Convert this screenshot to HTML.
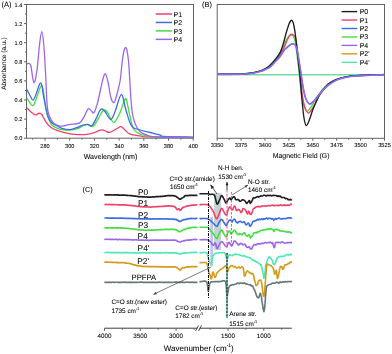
<!DOCTYPE html>
<html><head><meta charset="utf-8"><style>
html,body{margin:0;padding:0;background:#fff;overflow:hidden;}
svg{display:block;font-family:"Liberation Sans", sans-serif;will-change:transform;}
text{text-rendering:geometricPrecision;stroke:#000;stroke-width:0.06px;}
</style></head><body>
<svg width="392" height="354" viewBox="0 0 392 354">
<rect width="392" height="354" fill="#fff"/>
<text x="1.6" y="7.0" font-size="7.5" text-anchor="start" fill="#000" >(A)</text>
<rect x="26.5" y="4.5" width="167.0" height="133.7" fill="none" stroke="#606464" stroke-width="1"/>
<line x1="24.0" y1="138.2" x2="26.5" y2="138.2" stroke="#606464" stroke-width="1" />
<text x="22.3" y="140.2" font-size="5.6" text-anchor="end" fill="#000" >0.0</text>
<line x1="25.0" y1="128.64999999999998" x2="26.5" y2="128.64999999999998" stroke="#606464" stroke-width="1" />
<line x1="24.0" y1="119.1" x2="26.5" y2="119.1" stroke="#606464" stroke-width="1" />
<text x="22.3" y="121.1" font-size="5.6" text-anchor="end" fill="#000" >0.2</text>
<line x1="25.0" y1="109.55" x2="26.5" y2="109.55" stroke="#606464" stroke-width="1" />
<line x1="24.0" y1="99.99999999999999" x2="26.5" y2="99.99999999999999" stroke="#606464" stroke-width="1" />
<text x="22.3" y="101.99999999999999" font-size="5.6" text-anchor="end" fill="#000" >0.4</text>
<line x1="25.0" y1="90.44999999999999" x2="26.5" y2="90.44999999999999" stroke="#606464" stroke-width="1" />
<line x1="24.0" y1="80.89999999999998" x2="26.5" y2="80.89999999999998" stroke="#606464" stroke-width="1" />
<text x="22.3" y="82.89999999999998" font-size="5.6" text-anchor="end" fill="#000" >0.6</text>
<line x1="25.0" y1="71.34999999999998" x2="26.5" y2="71.34999999999998" stroke="#606464" stroke-width="1" />
<line x1="24.0" y1="61.79999999999998" x2="26.5" y2="61.79999999999998" stroke="#606464" stroke-width="1" />
<text x="22.3" y="63.79999999999998" font-size="5.6" text-anchor="end" fill="#000" >0.8</text>
<line x1="25.0" y1="52.249999999999986" x2="26.5" y2="52.249999999999986" stroke="#606464" stroke-width="1" />
<line x1="24.0" y1="42.69999999999999" x2="26.5" y2="42.69999999999999" stroke="#606464" stroke-width="1" />
<text x="22.3" y="44.69999999999999" font-size="5.6" text-anchor="end" fill="#000" >1.0</text>
<line x1="25.0" y1="33.14999999999999" x2="26.5" y2="33.14999999999999" stroke="#606464" stroke-width="1" />
<line x1="24.0" y1="23.599999999999966" x2="26.5" y2="23.599999999999966" stroke="#606464" stroke-width="1" />
<text x="22.3" y="25.599999999999966" font-size="5.6" text-anchor="end" fill="#000" >1.2</text>
<line x1="25.0" y1="14.049999999999965" x2="26.5" y2="14.049999999999965" stroke="#606464" stroke-width="1" />
<line x1="24.0" y1="4.499999999999972" x2="26.5" y2="4.499999999999972" stroke="#606464" stroke-width="1" />
<text x="22.3" y="6.499999999999972" font-size="5.6" text-anchor="end" fill="#000" >1.4</text>
<line x1="45.0" y1="138.2" x2="45.0" y2="140.7" stroke="#606464" stroke-width="1" />
<text x="45.0" y="147.7" font-size="5.6" text-anchor="middle" fill="#000" >280</text>
<line x1="69.7" y1="138.2" x2="69.7" y2="140.7" stroke="#606464" stroke-width="1" />
<text x="69.7" y="147.7" font-size="5.6" text-anchor="middle" fill="#000" >300</text>
<line x1="94.4" y1="138.2" x2="94.4" y2="140.7" stroke="#606464" stroke-width="1" />
<text x="94.4" y="147.7" font-size="5.6" text-anchor="middle" fill="#000" >320</text>
<line x1="119.10000000000001" y1="138.2" x2="119.10000000000001" y2="140.7" stroke="#606464" stroke-width="1" />
<text x="119.10000000000001" y="147.7" font-size="5.6" text-anchor="middle" fill="#000" >340</text>
<line x1="143.8" y1="138.2" x2="143.8" y2="140.7" stroke="#606464" stroke-width="1" />
<text x="143.8" y="147.7" font-size="5.6" text-anchor="middle" fill="#000" >360</text>
<line x1="168.5" y1="138.2" x2="168.5" y2="140.7" stroke="#606464" stroke-width="1" />
<text x="168.5" y="147.7" font-size="5.6" text-anchor="middle" fill="#000" >380</text>
<line x1="193.20000000000002" y1="138.2" x2="193.20000000000002" y2="140.7" stroke="#606464" stroke-width="1" />
<text x="193.20000000000002" y="147.7" font-size="5.6" text-anchor="middle" fill="#000" >400</text>
<line x1="32.65" y1="138.2" x2="32.65" y2="139.7" stroke="#606464" stroke-width="1" />
<line x1="57.35" y1="138.2" x2="57.35" y2="139.7" stroke="#606464" stroke-width="1" />
<line x1="82.05000000000001" y1="138.2" x2="82.05000000000001" y2="139.7" stroke="#606464" stroke-width="1" />
<line x1="106.75" y1="138.2" x2="106.75" y2="139.7" stroke="#606464" stroke-width="1" />
<line x1="131.45" y1="138.2" x2="131.45" y2="139.7" stroke="#606464" stroke-width="1" />
<line x1="156.15" y1="138.2" x2="156.15" y2="139.7" stroke="#606464" stroke-width="1" />
<line x1="180.85000000000002" y1="138.2" x2="180.85000000000002" y2="139.7" stroke="#606464" stroke-width="1" />
<text x="110.5" y="158.5" font-size="7.1" text-anchor="middle" fill="#000" >Wavelength (nm)</text>
<text x="0" y="0" font-size="6.6" text-anchor="middle" fill="#111" transform="translate(6.1,63.6) rotate(-90)">Absorbance (a.u.)</text>
<clipPath id="ca"><rect x="26.5" y="4.5" width="167.0" height="133.7"/></clipPath>
<g clip-path="url(#ca)">
<path d="M27.00,107.90 C27.67,108.58 29.57,110.83 31.00,112.00 C32.43,113.17 34.43,114.63 35.60,114.90 C36.77,115.17 37.23,113.87 38.00,113.60 C38.77,113.33 39.57,113.15 40.20,113.30 C40.83,113.45 41.28,113.85 41.80,114.50 C42.32,115.15 42.53,115.83 43.30,117.20 C44.07,118.57 45.12,120.98 46.40,122.70 C47.68,124.42 49.23,126.22 51.00,127.50 C52.77,128.78 53.83,129.35 57.00,130.40 C60.17,131.45 66.30,133.08 70.00,133.80 C73.70,134.52 76.13,134.63 79.20,134.70 C82.27,134.77 85.65,134.65 88.40,134.20 C91.15,133.75 93.50,132.73 95.70,132.00 C97.90,131.27 99.97,129.97 101.60,129.80 C103.23,129.63 104.18,130.57 105.50,131.00 C106.82,131.43 107.75,132.70 109.50,132.40 C111.25,132.10 114.10,130.15 116.00,129.20 C117.90,128.25 119.40,126.57 120.90,126.70 C122.40,126.83 123.48,128.75 125.00,130.00 C126.52,131.25 127.47,133.22 130.00,134.20 C132.53,135.18 137.37,135.47 140.20,135.90 C143.03,136.33 138.20,136.53 147.00,136.80 C155.80,137.07 185.33,137.38 193.00,137.50" fill="none" stroke="#f0406a" stroke-width="1.3" stroke-linejoin="round" stroke-linecap="round" />
<path d="M27.00,98.00 C27.50,98.83 28.97,101.75 30.00,103.00 C31.03,104.25 32.12,106.33 33.20,105.50 C34.28,104.67 35.45,100.75 36.50,98.00 C37.55,95.25 38.62,91.12 39.50,89.00 C40.38,86.88 41.22,85.30 41.80,85.30 C42.38,85.30 42.62,87.18 43.00,89.00 C43.38,90.82 43.65,93.18 44.10,96.20 C44.55,99.22 45.05,103.60 45.70,107.10 C46.35,110.60 46.97,114.22 48.00,117.20 C49.03,120.18 50.40,123.18 51.90,125.00 C53.40,126.82 55.32,127.33 57.00,128.10 C58.68,128.87 59.83,129.27 62.00,129.60 C64.17,129.93 67.43,130.25 70.00,130.10 C72.57,129.95 75.10,129.47 77.40,128.70 C79.70,127.93 81.97,126.18 83.80,125.50 C85.63,124.82 86.87,124.43 88.40,124.60 C89.93,124.77 91.32,127.57 93.00,126.50 C94.68,125.43 96.95,120.70 98.50,118.20 C100.05,115.70 101.23,112.87 102.30,111.50 C103.37,110.13 104.07,109.92 104.90,110.00 C105.73,110.08 106.53,110.93 107.30,112.00 C108.07,113.07 108.37,114.67 109.50,116.40 C110.63,118.13 112.42,122.87 114.10,122.40 C115.78,121.93 117.72,117.55 119.60,113.60 C121.48,109.65 124.03,99.97 125.40,98.70 C126.77,97.43 127.07,103.20 127.80,106.00 C128.53,108.80 128.82,111.62 129.80,115.50 C130.78,119.38 131.97,126.18 133.70,129.30 C135.43,132.42 137.98,133.10 140.20,134.20 C142.42,135.30 144.53,135.47 147.00,135.90 C149.47,136.33 147.33,136.57 155.00,136.80 C162.67,137.03 186.67,137.22 193.00,137.30" fill="none" stroke="#44dd44" stroke-width="1.3" stroke-linejoin="round" stroke-linecap="round" />
<path d="M27.00,89.70 C27.50,90.67 28.97,93.77 30.00,95.50 C31.03,97.23 32.12,100.52 33.20,100.10 C34.28,99.68 35.57,95.35 36.50,93.00 C37.43,90.65 38.10,87.67 38.80,86.00 C39.50,84.33 40.17,83.00 40.70,83.00 C41.23,83.00 41.57,84.05 42.00,86.00 C42.43,87.95 42.68,91.18 43.30,94.70 C43.92,98.22 44.92,103.48 45.70,107.10 C46.48,110.72 46.97,113.80 48.00,116.40 C49.03,119.00 50.40,121.13 51.90,122.70 C53.40,124.27 55.32,124.87 57.00,125.80 C58.68,126.73 59.83,127.67 62.00,128.30 C64.17,128.93 67.43,129.75 70.00,129.60 C72.57,129.45 75.25,128.17 77.40,127.40 C79.55,126.63 81.22,125.52 82.90,125.00 C84.58,124.48 85.98,124.20 87.50,124.30 C89.02,124.40 90.47,126.77 92.00,125.60 C93.53,124.43 95.45,119.73 96.70,117.30 C97.95,114.87 98.68,112.38 99.50,111.00 C100.32,109.62 100.92,109.17 101.60,109.00 C102.28,108.83 102.90,109.38 103.60,110.00 C104.30,110.62 104.60,111.12 105.80,112.70 C107.00,114.28 109.27,119.65 110.80,119.50 C112.33,119.35 113.25,115.93 115.00,111.80 C116.75,107.67 119.50,95.08 121.30,94.70 C123.10,94.32 124.38,104.88 125.80,109.50 C127.22,114.12 128.60,119.40 129.80,122.40 C131.00,125.40 131.27,126.23 133.00,127.50 C134.73,128.77 137.32,129.17 140.20,130.00 C143.08,130.83 146.92,131.65 150.30,132.50 C153.68,133.35 158.22,134.47 160.50,135.10 C162.78,135.73 158.58,135.93 164.00,136.30 C169.42,136.67 188.17,137.13 193.00,137.30" fill="none" stroke="#3a6ee0" stroke-width="1.3" stroke-linejoin="round" stroke-linecap="round" />
<path d="M27.00,63.80 C27.42,63.77 28.83,63.15 29.50,63.60 C30.17,64.05 30.27,63.33 31.00,66.50 C31.73,69.67 32.90,82.02 33.90,82.60 C34.90,83.18 36.07,76.27 37.00,70.00 C37.93,63.73 38.72,51.38 39.50,45.00 C40.28,38.62 40.98,31.70 41.70,31.70 C42.42,31.70 43.13,37.62 43.80,45.00 C44.47,52.38 45.20,66.83 45.70,76.00 C46.20,85.17 46.38,93.92 46.80,100.00 C47.22,106.08 47.35,108.98 48.20,112.50 C49.05,116.02 50.55,119.05 51.90,121.10 C53.25,123.15 54.48,123.97 56.30,124.80 C58.12,125.63 60.52,126.18 62.80,126.10 C65.08,126.02 67.27,124.78 70.00,124.30 C72.73,123.82 76.90,124.37 79.20,123.20 C81.50,122.03 82.33,119.67 83.80,117.30 C85.27,114.93 86.80,110.13 88.00,109.00 C89.20,107.87 90.02,109.88 91.00,110.50 C91.98,111.12 92.80,114.02 93.90,112.70 C95.00,111.38 96.37,107.05 97.60,102.60 C98.83,98.15 100.32,90.27 101.30,86.00 C102.28,81.73 102.80,79.02 103.50,77.00 C104.20,74.98 104.75,73.07 105.50,73.90 C106.25,74.73 107.08,77.98 108.00,82.00 C108.92,86.02 110.00,94.57 111.00,98.00 C112.00,101.43 113.08,102.93 114.00,102.60 C114.92,102.27 115.75,98.43 116.50,96.00 C117.25,93.57 117.85,90.83 118.50,88.00 C119.15,85.17 119.77,83.50 120.40,79.00 C121.03,74.50 121.70,65.75 122.30,61.00 C122.90,56.25 123.47,52.75 124.00,50.50 C124.53,48.25 125.00,47.50 125.50,47.50 C126.00,47.50 126.48,48.08 127.00,50.50 C127.52,52.92 128.13,57.08 128.60,62.00 C129.07,66.92 129.40,73.67 129.80,80.00 C130.20,86.33 130.55,94.33 131.00,100.00 C131.45,105.67 131.88,110.25 132.50,114.00 C133.12,117.75 133.95,120.25 134.70,122.50 C135.45,124.75 136.08,125.97 137.00,127.50 C137.92,129.03 138.53,130.43 140.20,131.70 C141.87,132.97 144.47,134.25 147.00,135.10 C149.53,135.95 147.73,136.43 155.40,136.80 C163.07,137.17 186.73,137.22 193.00,137.30" fill="none" stroke="#9b66ee" stroke-width="1.3" stroke-linejoin="round" stroke-linecap="round" />
</g>
<line x1="155.7" y1="14.0" x2="172" y2="14.0" stroke="#f0406a" stroke-width="1.5" />
<text x="173.6" y="16.6" font-size="7" text-anchor="start" fill="#000" >P1</text>
<line x1="155.7" y1="22.45" x2="172" y2="22.45" stroke="#3a6ee0" stroke-width="1.5" />
<text x="173.6" y="25.05" font-size="7" text-anchor="start" fill="#000" >P2</text>
<line x1="155.7" y1="30.9" x2="172" y2="30.9" stroke="#44dd44" stroke-width="1.5" />
<text x="173.6" y="33.5" font-size="7" text-anchor="start" fill="#000" >P3</text>
<line x1="155.7" y1="39.349999999999994" x2="172" y2="39.349999999999994" stroke="#9b66ee" stroke-width="1.5" />
<text x="173.6" y="41.949999999999996" font-size="7" text-anchor="start" fill="#000" >P4</text>
<text x="202.0" y="6.6" font-size="7.4" text-anchor="start" fill="#000" >(B)</text>
<rect x="217.2" y="4.5" width="167.3" height="133.8" fill="none" stroke="#606464" stroke-width="1"/>
<line x1="217.2" y1="138.3" x2="217.2" y2="140.8" stroke="#606464" stroke-width="1" />
<text x="217.2" y="147.4" font-size="5.7" text-anchor="middle" fill="#000" >3350</text>
<line x1="229.14999999999998" y1="138.3" x2="229.14999999999998" y2="139.8" stroke="#606464" stroke-width="1" />
<line x1="241.1" y1="138.3" x2="241.1" y2="140.8" stroke="#606464" stroke-width="1" />
<text x="241.1" y="147.4" font-size="5.7" text-anchor="middle" fill="#000" >3375</text>
<line x1="253.04999999999998" y1="138.3" x2="253.04999999999998" y2="139.8" stroke="#606464" stroke-width="1" />
<line x1="265.0" y1="138.3" x2="265.0" y2="140.8" stroke="#606464" stroke-width="1" />
<text x="265.0" y="147.4" font-size="5.7" text-anchor="middle" fill="#000" >3400</text>
<line x1="276.95" y1="138.3" x2="276.95" y2="139.8" stroke="#606464" stroke-width="1" />
<line x1="288.9" y1="138.3" x2="288.9" y2="140.8" stroke="#606464" stroke-width="1" />
<text x="288.9" y="147.4" font-size="5.7" text-anchor="middle" fill="#000" >3425</text>
<line x1="300.84999999999997" y1="138.3" x2="300.84999999999997" y2="139.8" stroke="#606464" stroke-width="1" />
<line x1="312.8" y1="138.3" x2="312.8" y2="140.8" stroke="#606464" stroke-width="1" />
<text x="312.8" y="147.4" font-size="5.7" text-anchor="middle" fill="#000" >3450</text>
<line x1="324.75" y1="138.3" x2="324.75" y2="139.8" stroke="#606464" stroke-width="1" />
<line x1="336.7" y1="138.3" x2="336.7" y2="140.8" stroke="#606464" stroke-width="1" />
<text x="336.7" y="147.4" font-size="5.7" text-anchor="middle" fill="#000" >3475</text>
<line x1="348.65" y1="138.3" x2="348.65" y2="139.8" stroke="#606464" stroke-width="1" />
<line x1="360.6" y1="138.3" x2="360.6" y2="140.8" stroke="#606464" stroke-width="1" />
<text x="360.6" y="147.4" font-size="5.7" text-anchor="middle" fill="#000" >3500</text>
<line x1="372.55" y1="138.3" x2="372.55" y2="139.8" stroke="#606464" stroke-width="1" />
<line x1="384.5" y1="138.3" x2="384.5" y2="140.8" stroke="#606464" stroke-width="1" />
<text x="384.5" y="147.4" font-size="5.7" text-anchor="middle" fill="#000" >3525</text>
<text x="301.1" y="158.3" font-size="6.9" text-anchor="middle" fill="#000" >Magnetic Field (G)</text>
<clipPath id="cb"><rect x="217.2" y="4.5" width="167.3" height="133.8"/></clipPath>
<g clip-path="url(#cb)">
<path d="M217.20,74.60 L384.50,74.60" fill="none" stroke="#d49a1c" stroke-width="1.2" stroke-linejoin="round" stroke-linecap="round" />
<path d="M217.20,74.60 L384.50,74.60" fill="none" stroke="#4fe8b4" stroke-width="1.2" stroke-linejoin="round" stroke-linecap="round" stroke-dasharray="3 1"/>
<path d="M216.50,74.30 C220.25,74.27 233.58,74.27 239.00,74.10 C244.42,73.93 245.67,73.78 249.00,73.30 C252.33,72.82 256.50,71.90 259.00,71.20 C261.50,70.50 262.33,69.97 264.00,69.10 C265.67,68.23 267.33,67.38 269.00,66.00 C270.67,64.62 272.33,62.73 274.00,60.80 C275.67,58.87 277.50,56.60 279.00,54.40 C280.50,52.20 281.83,49.92 283.00,47.60 C284.17,45.28 285.00,42.45 286.00,40.50 C287.00,38.55 288.13,36.82 289.00,35.90 C289.87,34.98 290.50,34.95 291.20,35.00 C291.90,35.05 292.57,35.25 293.20,36.20 C293.83,37.15 294.37,37.57 295.00,40.70 C295.63,43.83 296.28,49.40 297.00,55.00 C297.72,60.60 298.58,67.93 299.30,74.30 C300.02,80.67 300.65,88.42 301.30,93.20 C301.95,97.98 302.55,100.40 303.20,103.00 C303.85,105.60 304.47,107.45 305.20,108.80 C305.93,110.15 306.80,111.15 307.60,111.10 C308.40,111.05 309.10,109.67 310.00,108.50 C310.90,107.33 311.98,105.87 313.00,104.10 C314.02,102.33 315.20,99.33 316.10,97.90 C317.00,96.47 317.37,96.85 318.40,95.50 C319.43,94.15 320.87,91.55 322.30,89.80 C323.73,88.05 325.18,86.47 327.00,85.00 C328.82,83.53 331.20,82.07 333.20,81.00 C335.20,79.93 336.37,79.38 339.00,78.60 C341.63,77.82 344.00,76.88 349.00,76.30 C354.00,75.72 363.33,75.38 369.00,75.10 C374.67,74.82 380.67,74.68 383.00,74.60" fill="none" stroke="#44dd44" stroke-width="1.35" stroke-linejoin="round" stroke-linecap="round" />
<path d="M217.50,74.30 C221.25,74.27 234.58,74.27 240.00,74.10 C245.42,73.93 246.67,73.78 250.00,73.30 C253.33,72.82 257.50,71.90 260.00,71.20 C262.50,70.50 263.33,69.97 265.00,69.10 C266.67,68.23 268.33,67.38 270.00,66.00 C271.67,64.62 273.33,62.73 275.00,60.80 C276.67,58.87 278.50,56.60 280.00,54.40 C281.50,52.20 282.83,49.92 284.00,47.60 C285.17,45.28 286.00,42.57 287.00,40.50 C288.00,38.43 289.13,36.23 290.00,35.20 C290.87,34.17 291.50,34.25 292.20,34.30 C292.90,34.35 293.57,34.55 294.20,35.50 C294.83,36.45 295.37,36.75 296.00,40.00 C296.63,43.25 297.28,49.28 298.00,55.00 C298.72,60.72 299.58,67.60 300.30,74.30 C301.02,81.00 301.65,90.08 302.30,95.20 C302.95,100.32 303.55,102.40 304.20,105.00 C304.85,107.60 305.47,109.45 306.20,110.80 C306.93,112.15 307.80,113.15 308.60,113.10 C309.40,113.05 310.10,111.67 311.00,110.50 C311.90,109.33 312.98,107.87 314.00,106.10 C315.02,104.33 316.20,101.67 317.10,99.90 C318.00,98.13 318.37,97.18 319.40,95.50 C320.43,93.82 321.87,91.55 323.30,89.80 C324.73,88.05 326.18,86.47 328.00,85.00 C329.82,83.53 332.20,82.07 334.20,81.00 C336.20,79.93 337.37,79.38 340.00,78.60 C342.63,77.82 345.00,76.88 350.00,76.30 C355.00,75.72 364.33,75.38 370.00,75.10 C375.67,74.82 381.67,74.68 384.00,74.60" fill="none" stroke="#f0406a" stroke-width="1.35" stroke-linejoin="round" stroke-linecap="round" />
<path d="M217.50,74.30 C221.25,74.27 234.58,74.28 240.00,74.10 C245.42,73.92 246.67,73.70 250.00,73.20 C253.33,72.70 257.50,71.80 260.00,71.10 C262.50,70.40 263.33,69.92 265.00,69.00 C266.67,68.08 268.33,67.10 270.00,65.60 C271.67,64.10 273.33,62.13 275.00,60.00 C276.67,57.87 278.58,55.63 280.00,52.80 C281.42,49.97 282.45,46.38 283.50,43.00 C284.55,39.62 285.38,35.67 286.30,32.50 C287.22,29.33 288.28,25.92 289.00,24.00 C289.72,22.08 290.17,21.62 290.60,21.00 C291.03,20.38 291.27,20.27 291.60,20.30 C291.93,20.33 292.20,20.25 292.60,21.20 C293.00,22.15 293.53,23.70 294.00,26.00 C294.47,28.30 294.85,30.67 295.40,35.00 C295.95,39.33 296.57,45.45 297.30,52.00 C298.03,58.55 299.02,66.30 299.80,74.30 C300.58,82.30 301.30,92.72 302.00,100.00 C302.70,107.28 303.30,113.75 304.00,118.00 C304.70,122.25 305.32,125.15 306.20,125.50 C307.08,125.85 308.27,122.55 309.30,120.10 C310.33,117.65 311.35,113.65 312.40,110.80 C313.45,107.95 314.43,105.60 315.60,103.00 C316.77,100.40 318.12,97.40 319.40,95.20 C320.68,93.00 321.87,91.62 323.30,89.80 C324.73,87.98 326.18,85.87 328.00,84.30 C329.82,82.73 332.20,81.38 334.20,80.40 C336.20,79.42 337.37,79.10 340.00,78.40 C342.63,77.70 345.00,76.77 350.00,76.20 C355.00,75.63 364.33,75.28 370.00,75.00 C375.67,74.72 381.67,74.58 384.00,74.50" fill="none" stroke="#1e1e1e" stroke-width="1.35" stroke-linejoin="round" stroke-linecap="round" />
<path d="M217.50,74.20 C221.25,74.17 234.58,74.15 240.00,74.00 C245.42,73.85 246.67,73.75 250.00,73.30 C253.33,72.85 257.50,71.95 260.00,71.30 C262.50,70.65 263.33,70.15 265.00,69.40 C266.67,68.65 268.33,68.10 270.00,66.80 C271.67,65.50 273.33,63.37 275.00,61.60 C276.67,59.83 278.50,58.13 280.00,56.20 C281.50,54.27 282.92,51.40 284.00,50.00 C285.08,48.60 285.50,48.68 286.50,47.80 C287.50,46.92 288.98,45.40 290.00,44.70 C291.02,44.00 291.83,43.62 292.60,43.60 C293.37,43.58 293.98,43.95 294.60,44.60 C295.22,45.25 295.68,45.43 296.30,47.50 C296.92,49.57 297.52,52.53 298.30,57.00 C299.08,61.47 300.13,68.80 301.00,74.30 C301.87,79.80 302.67,85.80 303.50,90.00 C304.33,94.20 305.03,97.20 306.00,99.50 C306.97,101.80 308.30,103.30 309.30,103.80 C310.30,104.30 310.95,103.28 312.00,102.50 C313.05,101.72 314.37,100.52 315.60,99.10 C316.83,97.68 318.12,95.60 319.40,94.00 C320.68,92.40 321.87,90.98 323.30,89.50 C324.73,88.02 326.18,86.52 328.00,85.10 C329.82,83.68 332.20,82.08 334.20,81.00 C336.20,79.92 337.37,79.38 340.00,78.60 C342.63,77.82 345.00,76.88 350.00,76.30 C355.00,75.72 364.33,75.38 370.00,75.10 C375.67,74.82 381.67,74.68 384.00,74.60" fill="none" stroke="#3a6ee0" stroke-width="1.35" stroke-linejoin="round" stroke-linecap="round" />
<path d="M217.80,74.50 C221.55,74.47 234.88,74.45 240.30,74.30 C245.72,74.15 246.97,74.05 250.30,73.60 C253.63,73.15 257.80,72.25 260.30,71.60 C262.80,70.95 263.63,70.45 265.30,69.70 C266.97,68.95 268.63,68.40 270.30,67.10 C271.97,65.80 273.63,63.67 275.30,61.90 C276.97,60.13 278.80,58.43 280.30,56.50 C281.80,54.57 283.22,51.70 284.30,50.30 C285.38,48.90 285.80,48.98 286.80,48.10 C287.80,47.22 289.28,45.70 290.30,45.00 C291.32,44.30 292.13,43.92 292.90,43.90 C293.67,43.88 294.28,44.25 294.90,44.90 C295.52,45.55 295.98,45.73 296.60,47.80 C297.22,49.87 297.82,52.83 298.60,57.30 C299.38,61.77 300.43,69.10 301.30,74.60 C302.17,80.10 302.97,86.10 303.80,90.30 C304.63,94.50 305.33,97.50 306.30,99.80 C307.27,102.10 308.60,103.60 309.60,104.10 C310.60,104.60 311.25,103.58 312.30,102.80 C313.35,102.02 314.67,100.82 315.90,99.40 C317.13,97.98 318.42,95.90 319.70,94.30 C320.98,92.70 322.17,91.28 323.60,89.80 C325.03,88.32 326.48,86.82 328.30,85.40 C330.12,83.98 332.50,82.38 334.50,81.30 C336.50,80.22 337.67,79.68 340.30,78.90 C342.93,78.12 345.30,77.18 350.30,76.60 C355.30,76.02 364.63,75.68 370.30,75.40 C375.97,75.12 381.97,74.98 384.30,74.90" fill="none" stroke="#9b66ee" stroke-width="1.35" stroke-linejoin="round" stroke-linecap="round" />
</g>
<line x1="341.6" y1="11.6" x2="357.2" y2="11.6" stroke="#1e1e1e" stroke-width="1.4" />
<text x="359.7" y="14.1" font-size="7" text-anchor="start" fill="#000" >P0</text>
<line x1="341.6" y1="20.049999999999997" x2="357.2" y2="20.049999999999997" stroke="#f0406a" stroke-width="1.4" />
<text x="359.7" y="22.549999999999997" font-size="7" text-anchor="start" fill="#000" >P1</text>
<line x1="341.6" y1="28.5" x2="357.2" y2="28.5" stroke="#3a6ee0" stroke-width="1.4" />
<text x="359.7" y="31.0" font-size="7" text-anchor="start" fill="#000" >P2</text>
<line x1="341.6" y1="36.949999999999996" x2="357.2" y2="36.949999999999996" stroke="#44dd44" stroke-width="1.4" />
<text x="359.7" y="39.449999999999996" font-size="7" text-anchor="start" fill="#000" >P3</text>
<line x1="341.6" y1="45.4" x2="357.2" y2="45.4" stroke="#9b66ee" stroke-width="1.4" />
<text x="359.7" y="47.9" font-size="7" text-anchor="start" fill="#000" >P4</text>
<line x1="341.6" y1="53.85" x2="357.2" y2="53.85" stroke="#d49a1c" stroke-width="1.4" />
<text x="359.7" y="56.35" font-size="7" text-anchor="start" fill="#000" >P2'</text>
<line x1="341.6" y1="62.3" x2="357.2" y2="62.3" stroke="#4fe8b4" stroke-width="1.4" />
<text x="359.7" y="64.8" font-size="7" text-anchor="start" fill="#000" >P4'</text>
<text x="82.6" y="192.2" font-size="7.3" text-anchor="start" fill="#000" >(C)</text>
<line x1="104.5" y1="328.2" x2="197.5" y2="328.2" stroke="#3a3d3d" stroke-width="1" />
<line x1="199.5" y1="328.2" x2="291.8" y2="328.2" stroke="#3a3d3d" stroke-width="1" />
<line x1="104.5" y1="328.2" x2="104.5" y2="330.9" stroke="#606464" stroke-width="1" />
<text x="104.5" y="337.7" font-size="6.3" text-anchor="middle" fill="#000" >4000</text>
<line x1="140.3" y1="328.2" x2="140.3" y2="330.9" stroke="#606464" stroke-width="1" />
<text x="140.3" y="337.7" font-size="6.3" text-anchor="middle" fill="#000" >3500</text>
<line x1="176.1" y1="328.2" x2="176.1" y2="330.9" stroke="#606464" stroke-width="1" />
<text x="176.1" y="337.7" font-size="6.3" text-anchor="middle" fill="#000" >3000</text>
<line x1="122.4" y1="328.2" x2="122.4" y2="329.8" stroke="#606464" stroke-width="1" />
<line x1="158.2" y1="328.2" x2="158.2" y2="329.8" stroke="#606464" stroke-width="1" />
<line x1="194.0" y1="328.2" x2="194.0" y2="329.8" stroke="#606464" stroke-width="1" />
<line x1="228.0" y1="328.2" x2="228.0" y2="330.9" stroke="#606464" stroke-width="1" />
<text x="228.0" y="337.7" font-size="6.3" text-anchor="middle" fill="#000" >1500</text>
<line x1="263.8" y1="328.2" x2="263.8" y2="330.9" stroke="#606464" stroke-width="1" />
<text x="263.8" y="337.7" font-size="6.3" text-anchor="middle" fill="#000" >1000</text>
<line x1="210.1" y1="328.2" x2="210.1" y2="329.8" stroke="#606464" stroke-width="1" />
<line x1="245.9" y1="328.2" x2="245.9" y2="329.8" stroke="#606464" stroke-width="1" />
<line x1="281.7" y1="328.2" x2="281.7" y2="329.8" stroke="#606464" stroke-width="1" />
<line x1="195.5" y1="331" x2="198.5" y2="325.5" stroke="#333" stroke-width="0.9" />
<line x1="198.5" y1="331" x2="201.5" y2="325.5" stroke="#333" stroke-width="0.9" />
<text x="198.8" y="350.6" font-size="8.0" text-anchor="middle" fill="#000" >Wavenumber (cm<tspan font-size="5" dy="-3.3">-1</tspan><tspan dy="3.3">)</tspan></text>
<rect x="214.1" y="193" width="7" height="57" fill="#b8c6c8" opacity="0.8"/>
<rect x="210.3" y="217" width="2.8" height="49" fill="#b4bce8" opacity="0.85"/>
<path d="M105.00,194.97 L105.32,195.01 L105.68,194.87 L106.07,194.83 L106.49,194.94 L106.94,194.91 L107.42,194.89 L107.93,194.94 L108.46,194.92 L109.01,194.91 L109.59,194.93 L110.19,195.00 L110.80,194.94 L111.43,194.93 L112.08,194.99 L112.74,194.97 L113.41,194.90 L114.09,194.89 L114.78,195.03 L115.48,194.97 L116.18,194.81 L116.89,194.78 L117.59,194.90 L118.30,195.12 L119.00,195.18 L119.71,195.16 L120.40,195.12 L121.09,195.12 L121.77,195.13 L122.45,195.11 L123.11,195.13 L123.75,195.10 L124.39,195.15 L125.00,195.18 L125.61,195.28 L126.22,195.35 L126.84,195.35 L127.46,195.37 L128.08,195.46 L128.70,195.49 L129.33,195.52 L129.96,195.60 L130.59,195.58 L131.22,195.64 L131.85,195.71 L132.48,195.79 L133.11,195.88 L133.74,195.98 L134.37,196.09 L135.00,196.14 L135.62,196.18 L136.25,196.27 L136.87,196.31 L137.48,196.40 L138.10,196.53 L138.70,196.57 L139.31,196.71 L139.91,196.80 L140.50,196.73 L141.09,196.72 L141.67,196.76 L142.24,196.80 L142.81,196.91 L143.37,196.94 L143.92,196.91 L144.47,196.95 L145.00,197.03 L145.70,197.00 L146.38,196.95 L147.06,197.03 L147.74,197.06 L148.40,197.09 L149.06,197.06 L149.70,197.08 L150.34,197.09 L150.98,197.15 L151.60,197.03 L152.22,196.92 L152.82,196.91 L153.42,196.81 L154.02,196.93 L154.60,197.03 L155.18,196.80 L155.74,196.67 L156.30,196.72 L156.86,196.59 L157.40,196.55 L157.94,196.64 L158.46,196.62 L158.98,196.47 L159.50,196.48 L160.00,196.57 L160.77,196.46 L161.52,196.36 L162.26,196.34 L162.97,196.35 L163.66,196.23 L164.34,196.12 L164.99,196.11 L165.62,195.94 L166.24,195.83 L166.84,195.77 L167.41,195.66 L167.97,195.72 L168.51,195.71 L169.02,195.63 L169.52,195.59 L170.00,195.63 L170.88,195.65 L171.65,195.57 L172.33,195.56 L172.94,195.61 L173.49,195.77 L174.01,195.84 L174.50,195.81 L175.00,195.97 L175.62,196.21 L176.17,196.57 L176.67,196.98 L177.13,197.27 L177.56,197.59 L178.00,197.91 L178.64,198.39 L179.23,198.93 L179.78,199.19 L180.30,199.19 L180.90,198.96 L181.43,198.50 L182.00,198.09 L182.64,197.79 L183.32,197.38 L184.00,196.93 L184.29,196.56 L184.45,196.24 L184.88,195.84 L186.00,195.53 L186.40,195.61 L186.87,195.59 L187.42,195.58 L188.02,195.63 L188.66,195.49 L189.35,195.33 L190.06,195.32 L190.79,195.35 L191.53,195.36 L192.26,195.45 L192.98,195.37 L193.67,195.26 L194.34,195.33 L194.96,195.40 L195.52,195.40 L196.03,195.36 L196.45,195.40 L196.80,195.39" fill="none" stroke="#1e1e1e" stroke-width="1.7" stroke-linejoin="round" stroke-linecap="round" />
<path d="M200.00,193.80 L200.37,193.80 L200.85,193.79 L201.42,193.79 L202.07,193.78 L202.77,193.77 L203.50,193.76 L204.25,193.75 L205.00,193.75 L205.72,193.75 L206.40,193.75 L207.02,193.76 L207.56,193.78 L208.00,193.80 L209.11,194.02 L209.56,194.31 L210.00,194.50 L210.64,194.41 L211.29,194.21 L212.00,194.20 L212.61,194.27 L213.27,194.36 L213.94,194.72 L214.60,195.60 L214.78,196.01 L214.96,196.54 L215.14,197.16 L215.32,197.85 L215.50,198.59 L215.68,199.36 L215.86,200.14 L216.04,200.90 L216.22,201.63 L216.40,202.30 L216.57,202.89 L216.75,203.39 L216.92,203.77 L217.10,204.00 L217.45,204.08 L217.80,203.77 L218.15,203.17 L218.50,202.39 L218.84,201.53 L219.17,200.70 L219.50,200.00 L219.77,199.42 L220.04,198.75 L220.30,198.04 L220.55,197.34 L220.80,196.70 L221.06,196.16 L221.33,195.78 L221.60,195.60 L221.99,195.71 L222.39,196.13 L222.81,196.77 L223.22,197.53 L223.62,198.31 L224.00,199.00 L224.31,199.60 L224.61,200.30 L224.90,201.03 L225.18,201.73 L225.46,202.34 L225.73,202.78 L226.00,203.00 L226.35,202.87 L226.67,202.35 L226.99,201.61 L227.33,200.84 L227.70,200.20 L228.14,199.64 L228.64,199.05 L229.14,198.51 L229.61,198.10 L230.00,197.90 L230.36,198.34 L230.57,199.22 L231.00,199.60 L231.38,199.32 L231.85,198.77 L232.37,198.08 L232.91,197.40 L233.43,196.73 L233.90,196.73 L234.33,197.08 L234.73,197.27 L235.13,198.34 L235.50,199.58 L235.86,199.69 L236.20,199.80 L236.79,199.70 L237.32,199.46 L237.90,199.58 L238.31,199.72 L238.74,199.85 L239.19,200.55 L239.65,201.26 L240.10,201.31 L240.67,201.26 L241.25,200.73 L241.83,199.94 L242.40,199.69 L242.95,199.77 L243.50,200.05 L244.05,200.17 L244.60,200.24 L245.06,201.17 L245.52,201.70 L245.98,202.35 L246.44,203.26 L246.90,203.40 L247.35,202.83 L247.81,202.23 L248.26,201.73 L248.69,201.15 L249.10,200.49 L249.55,200.64 L249.94,202.53 L250.34,203.40 L250.80,202.80 L251.05,202.43 L251.32,202.23 L251.59,201.72 L251.88,200.98 L252.17,200.46 L252.47,199.84 L252.78,199.21 L253.10,198.17 L253.66,197.70 L254.27,197.92 L254.90,197.84 L255.49,197.76 L256.00,197.29 L256.57,196.97 L257.70,196.54 L258.11,196.81 L258.60,197.11 L259.14,196.63 L259.73,196.46 L260.36,196.17 L261.02,195.82 L261.70,195.92 L262.38,196.07 L263.06,195.64 L263.74,195.20 L264.38,195.23 L265.00,195.37 L265.64,195.74 L266.28,196.00 L266.90,195.52 L267.53,195.18 L268.15,195.28 L268.77,195.72 L269.39,195.45 L270.03,195.10 L270.67,195.45 L271.33,195.86 L272.00,195.75 L272.59,195.44 L273.20,195.37 L273.82,195.41 L274.45,195.52 L275.10,195.47 L275.74,195.49 L276.38,195.58 L277.02,196.35 L277.65,196.20 L278.27,195.73 L278.87,196.40 L279.45,196.42 L280.00,195.98 L280.68,196.35 L281.34,197.32 L281.96,197.60 L282.57,197.50 L283.16,197.46 L283.73,197.55 L284.30,197.53 L284.86,198.11 L285.43,198.65 L286.00,198.44 L286.66,198.55 L287.36,198.84 L288.07,199.65 L288.78,199.63 L289.46,199.83 L290.09,199.95 L290.66,199.29 L291.13,199.61 L291.50,199.84" fill="none" stroke="#1e1e1e" stroke-width="1.6" stroke-linejoin="round" stroke-linecap="round" />
<path d="M105.00,204.59 L105.32,204.58 L105.68,204.48 L106.07,204.36 L106.49,204.40 L106.94,204.52 L107.42,204.50 L107.93,204.54 L108.46,204.59 L109.01,204.53 L109.59,204.47 L110.19,204.51 L110.80,204.60 L111.43,204.66 L112.08,204.57 L112.74,204.49 L113.41,204.61 L114.09,204.75 L114.78,204.73 L115.48,204.63 L116.18,204.70 L116.89,204.73 L117.59,204.73 L118.30,204.84 L119.00,204.86 L119.71,204.81 L120.40,204.83 L121.09,204.82 L121.77,204.80 L122.45,204.83 L123.11,204.86 L123.75,204.90 L124.39,204.93 L125.00,204.97 L125.61,205.02 L126.22,205.09 L126.84,205.15 L127.46,205.26 L128.08,205.23 L128.70,205.28 L129.33,205.40 L129.96,205.34 L130.59,205.41 L131.22,205.54 L131.85,205.67 L132.48,205.68 L133.11,205.71 L133.74,205.84 L134.37,205.82 L135.00,205.83 L135.62,206.01 L136.25,206.18 L136.87,206.27 L137.48,206.33 L138.10,206.37 L138.70,206.41 L139.31,206.52 L139.91,206.53 L140.50,206.52 L141.09,206.64 L141.67,206.62 L142.24,206.71 L142.81,206.79 L143.37,206.77 L143.92,206.95 L144.47,206.94 L145.00,206.83 L145.70,206.98 L146.38,206.97 L147.06,206.88 L147.74,206.97 L148.40,207.02 L149.06,207.02 L149.70,207.01 L150.34,207.03 L150.98,207.05 L151.60,207.00 L152.22,206.89 L152.82,206.80 L153.42,206.71 L154.02,206.75 L154.60,206.73 L155.18,206.71 L155.74,206.86 L156.30,206.73 L156.86,206.57 L157.40,206.57 L157.94,206.62 L158.46,206.57 L158.98,206.50 L159.50,206.49 L160.00,206.46 L160.77,206.52 L161.52,206.44 L162.26,206.33 L162.97,206.34 L163.66,206.33 L164.34,206.19 L164.99,206.15 L165.62,206.18 L166.24,206.12 L166.84,206.06 L167.41,205.89 L167.97,205.82 L168.51,205.92 L169.02,205.94 L169.52,205.89 L170.00,205.99 L170.88,206.14 L171.67,206.13 L172.36,206.21 L172.99,206.24 L173.55,206.19 L174.06,206.51 L174.54,206.80 L175.00,207.02 L175.63,207.55 L176.11,208.16 L176.49,208.84 L176.84,209.41 L177.20,209.63 L177.81,209.48 L178.37,208.99 L178.90,208.80 L179.34,209.27 L179.75,210.02 L180.30,210.38 L180.63,210.14 L180.94,209.82 L181.30,209.28 L181.73,208.57 L182.29,207.97 L183.00,207.55 L183.43,207.29 L183.92,207.03 L184.45,206.97 L185.02,206.83 L185.62,206.57 L186.24,206.32 L186.88,206.15 L187.52,205.94 L188.16,205.84 L188.80,205.80 L189.41,205.64 L190.00,205.44 L190.65,205.30 L191.34,205.30 L192.05,205.28 L192.77,205.17 L193.49,205.14 L194.18,205.18 L194.84,205.10 L195.44,205.00 L195.98,204.97 L196.44,204.92 L196.80,204.98" fill="none" stroke="#f0406a" stroke-width="1.7" stroke-linejoin="round" stroke-linecap="round" />
<path d="M200.00,204.60 L200.39,204.60 L200.91,204.59 L201.54,204.58 L202.24,204.56 L202.99,204.55 L203.76,204.54 L204.53,204.53 L205.26,204.54 L205.94,204.55 L206.53,204.57 L207.00,204.60 L208.04,204.77 L208.52,205.05 L209.00,205.50 L209.39,205.87 L209.78,206.31 L210.16,206.82 L210.57,207.38 L211.00,208.00 L211.34,208.48 L211.69,209.00 L212.06,209.56 L212.44,210.14 L212.81,210.74 L213.16,211.36 L213.50,212.00 L213.78,212.60 L214.04,213.26 L214.30,213.95 L214.56,214.65 L214.80,215.33 L215.04,215.97 L215.27,216.53 L215.50,217.00 L216.05,218.01 L216.56,218.65 L217.10,218.60 L217.32,218.33 L217.54,217.91 L217.76,217.37 L217.99,216.75 L218.22,216.07 L218.47,215.37 L218.73,214.67 L219.00,214.00 L219.23,213.44 L219.48,212.80 L219.73,212.10 L220.00,211.39 L220.27,210.69 L220.54,210.03 L220.81,209.44 L221.08,208.95 L221.34,208.59 L221.60,208.40 L221.95,208.44 L222.30,208.78 L222.65,209.33 L222.99,210.02 L223.33,210.75 L223.66,211.44 L224.00,212.00 L224.39,212.64 L224.79,213.37 L225.17,214.09 L225.56,214.67 L225.94,215.02 L226.30,215.00 L226.51,214.76 L226.72,214.35 L226.93,213.80 L227.14,213.15 L227.34,212.43 L227.54,211.69 L227.73,210.96 L227.92,210.28 L228.11,209.68 L228.30,209.20 L228.73,208.26 L229.14,207.51 L229.55,207.03 L230.00,206.90 L230.34,207.16 L230.69,207.71 L231.06,208.42 L231.44,209.11 L231.82,209.62 L232.20,209.85 L232.58,209.93 L232.96,209.29 L233.35,207.82 L233.74,207.06 L234.12,206.48 L234.50,206.17 L234.78,206.31 L235.05,206.56 L235.33,206.81 L235.60,207.66 L235.87,208.97 L236.15,210.36 L236.42,210.49 L236.70,210.42 L237.27,210.34 L237.85,209.87 L238.43,209.43 L239.00,209.74 L239.38,210.00 L239.76,210.26 L240.14,211.18 L240.51,211.61 L240.86,212.40 L241.20,212.44 L241.51,212.28 L241.78,211.85 L242.04,211.07 L242.31,210.56 L242.59,209.28 L242.90,208.55 L243.63,208.80 L244.42,209.04 L245.20,209.74 L245.53,210.40 L245.87,210.84 L246.20,211.64 L246.53,212.43 L246.85,212.78 L247.14,213.48 L247.40,213.83 L247.75,213.54 L248.00,212.60 L248.25,211.43 L248.60,211.15 L248.91,211.61 L249.26,211.97 L249.63,212.87 L250.02,214.05 L250.42,214.48 L250.80,214.37 L251.05,214.27 L251.29,214.23 L251.54,213.86 L251.78,213.14 L252.03,212.37 L252.29,211.82 L252.55,210.91 L252.82,210.19 L253.10,209.39 L253.56,208.45 L254.06,208.32 L254.57,208.13 L255.08,207.55 L255.56,207.10 L256.00,207.16 L256.55,206.74 L257.00,206.72 L258.00,206.62 L258.44,206.33 L258.93,206.79 L259.47,206.85 L260.05,206.42 L260.67,206.73 L261.33,206.59 L262.02,205.74 L262.74,205.93 L263.48,205.97 L264.23,206.02 L265.00,206.13 L265.54,205.95 L266.11,206.02 L266.69,206.17 L267.29,206.04 L267.90,205.67 L268.53,205.43 L269.17,205.44 L269.81,205.68 L270.46,205.77 L271.12,205.36 L271.77,205.29 L272.43,205.31 L273.08,205.09 L273.73,205.77 L274.37,205.70 L275.00,205.46 L275.63,205.42 L276.27,205.32 L276.92,205.45 L277.58,205.21 L278.24,205.64 L278.90,205.72 L279.56,205.17 L280.22,204.89 L280.87,204.83 L281.51,205.29 L282.13,205.64 L282.75,205.17 L283.34,204.97 L283.92,205.47 L284.47,205.45 L285.00,204.95 L285.82,205.31 L286.63,205.39 L287.41,204.94 L288.16,205.13 L288.88,205.36 L289.54,205.24 L290.14,204.66 L290.67,204.16 L291.13,204.16 L291.50,204.36" fill="none" stroke="#f0406a" stroke-width="1.6" stroke-linejoin="round" stroke-linecap="round" />
<path d="M105.00,218.02 L105.32,217.99 L105.68,217.99 L106.07,217.94 L106.49,217.97 L106.94,217.99 L107.42,217.96 L107.93,218.03 L108.46,218.00 L109.01,218.16 L109.59,218.17 L110.19,218.06 L110.80,218.15 L111.43,218.08 L112.08,218.10 L112.74,218.16 L113.41,218.15 L114.09,218.12 L114.78,218.03 L115.48,218.15 L116.18,218.23 L116.89,218.19 L117.59,218.21 L118.30,218.24 L119.00,218.16 L119.71,218.03 L120.40,218.02 L121.09,218.05 L121.77,218.03 L122.45,218.10 L123.11,218.20 L123.75,218.24 L124.39,218.30 L125.00,218.29 L125.61,218.28 L126.21,218.32 L126.82,218.30 L127.42,218.28 L128.03,218.35 L128.64,218.37 L129.24,218.35 L129.85,218.40 L130.45,218.52 L131.06,218.56 L131.67,218.50 L132.27,218.47 L132.88,218.50 L133.48,218.67 L134.09,218.54 L134.70,218.47 L135.30,218.66 L135.91,218.70 L136.52,218.65 L137.12,218.73 L137.73,218.86 L138.33,218.77 L138.94,218.75 L139.55,218.74 L140.15,218.75 L140.76,218.80 L141.36,218.86 L141.97,218.90 L142.58,218.86 L143.18,218.89 L143.79,218.94 L144.39,218.93 L145.00,218.83 L145.61,218.89 L146.23,218.91 L146.86,218.82 L147.49,218.88 L148.13,218.96 L148.77,219.04 L149.42,218.94 L150.07,218.94 L150.73,219.11 L151.38,219.02 L152.04,218.93 L152.69,218.93 L153.35,218.91 L154.00,218.87 L154.65,218.82 L155.30,218.87 L155.95,218.97 L156.59,219.07 L157.22,219.01 L157.84,218.82 L158.46,218.87 L159.07,218.95 L159.68,218.97 L160.27,218.97 L160.85,218.89 L161.42,218.88 L161.97,218.98 L162.52,219.03 L163.04,218.95 L163.56,218.98 L164.06,218.96 L164.54,218.90 L165.00,218.98 L165.91,218.95 L166.78,218.89 L167.59,218.97 L168.37,219.04 L169.10,219.03 L169.79,219.02 L170.44,218.99 L171.06,218.99 L171.65,219.21 L172.20,219.23 L172.73,219.18 L173.23,219.20 L173.70,219.22 L174.15,219.35 L174.59,219.34 L175.00,219.29 L176.06,219.39 L176.74,219.71 L177.19,219.98 L177.56,220.14 L178.00,220.51 L178.61,220.95 L179.17,221.19 L179.71,221.33 L180.30,221.35 L180.75,221.25 L181.14,221.00 L181.59,220.57 L182.18,220.20 L183.00,219.97 L183.48,219.80 L184.01,219.60 L184.60,219.54 L185.24,219.53 L185.90,219.38 L186.59,219.16 L187.29,219.11 L187.99,218.93 L188.68,218.69 L189.35,218.68 L190.00,218.70 L190.65,218.62 L191.34,218.39 L192.05,218.38 L192.77,218.53 L193.49,218.50 L194.18,218.50 L194.84,218.58 L195.44,218.56 L195.98,218.45 L196.44,218.36 L196.80,218.41" fill="none" stroke="#3a6ee0" stroke-width="1.7" stroke-linejoin="round" stroke-linecap="round" />
<path d="M200.00,218.60 L200.39,218.60 L200.91,218.59 L201.54,218.58 L202.24,218.56 L202.99,218.55 L203.76,218.54 L204.53,218.53 L205.26,218.54 L205.94,218.55 L206.53,218.57 L207.00,218.60 L208.04,218.81 L208.52,219.12 L209.00,219.50 L209.49,219.81 L209.97,220.15 L210.46,220.54 L211.00,221.00 L211.48,221.44 L211.99,221.95 L212.51,222.49 L213.02,223.02 L213.50,223.50 L214.04,224.06 L214.56,224.61 L215.04,225.10 L215.50,225.50 L216.31,226.26 L217.10,226.30 L217.35,225.99 L217.60,225.53 L217.86,224.95 L218.12,224.31 L218.40,223.66 L218.69,223.04 L219.00,222.50 L219.40,221.88 L219.82,221.22 L220.27,220.57 L220.72,220.03 L221.17,219.64 L221.60,219.50 L222.01,219.65 L222.42,220.06 L222.82,220.62 L223.21,221.28 L223.61,221.93 L224.00,222.50 L224.39,223.08 L224.79,223.76 L225.17,224.43 L225.56,225.01 L225.94,225.40 L226.30,225.50 L226.60,225.29 L226.89,224.82 L227.17,224.20 L227.44,223.48 L227.72,222.76 L228.01,222.10 L228.30,221.60 L228.85,220.94 L229.42,220.40 L229.98,220.03 L230.50,219.90 L230.95,220.18 L231.34,220.79 L231.74,221.38 L232.20,221.99 L232.61,221.26 L233.05,220.33 L233.52,219.60 L234.00,219.21 L234.50,219.18 L234.88,219.26 L235.28,220.18 L235.70,221.26 L236.12,221.99 L236.53,222.37 L236.93,222.38 L237.30,222.86 L237.89,222.87 L238.43,222.06 L238.96,221.75 L239.50,221.62 L240.07,221.29 L240.65,221.29 L241.23,221.98 L241.80,222.54 L242.35,222.53 L242.90,222.49 L243.45,222.06 L244.00,221.72 L244.38,221.68 L244.76,222.17 L245.14,223.52 L245.53,224.39 L245.92,224.43 L246.30,224.82 L246.89,224.59 L247.49,223.67 L248.07,223.11 L248.60,223.26 L248.96,223.70 L249.27,224.48 L249.57,225.88 L249.90,226.34 L250.30,226.06 L250.60,225.54 L250.92,225.60 L251.27,225.25 L251.62,224.23 L251.99,223.51 L252.37,222.61 L252.74,222.07 L253.10,221.39 L253.69,221.28 L254.30,221.19 L254.90,220.62 L255.48,220.64 L256.00,220.45 L256.55,220.43 L257.00,219.77 L258.00,219.27 L258.44,219.93 L258.95,219.67 L259.52,219.15 L260.14,219.44 L260.79,219.42 L261.47,218.68 L262.17,219.02 L262.88,219.60 L263.60,218.91 L264.31,218.80 L265.00,219.10 L265.60,218.67 L266.25,217.98 L266.93,218.15 L267.62,219.00 L268.33,218.77 L269.04,218.26 L269.73,218.32 L270.40,218.40 L271.04,218.61 L271.62,219.10 L272.16,218.82 L272.62,218.58 L273.00,219.09 L273.83,219.85 L273.80,220.52 L273.84,220.26 L273.93,219.55 L275.00,218.88 L275.39,218.45 L275.85,218.80 L276.38,219.22 L276.96,218.83 L277.59,218.64 L278.26,218.28 L278.95,218.05 L279.67,218.31 L280.39,219.01 L281.12,219.07 L281.84,218.57 L282.54,218.94 L283.22,218.81 L283.86,218.48 L284.46,218.49 L285.00,218.64 L285.82,218.64 L286.63,218.33 L287.41,218.00 L288.16,217.82 L288.88,217.91 L289.54,218.00 L290.14,217.70 L290.67,217.92 L291.13,218.28 L291.50,218.11" fill="none" stroke="#3a6ee0" stroke-width="1.6" stroke-linejoin="round" stroke-linecap="round" />
<path d="M105.00,227.76 L105.32,227.81 L105.68,227.85 L106.07,227.84 L106.49,227.91 L106.94,227.92 L107.42,227.92 L107.93,227.94 L108.46,227.95 L109.01,227.86 L109.59,227.75 L110.19,227.74 L110.80,227.81 L111.43,227.87 L112.08,227.89 L112.74,227.93 L113.41,227.89 L114.09,227.99 L114.78,228.03 L115.48,227.93 L116.18,227.86 L116.89,227.93 L117.59,228.04 L118.30,227.94 L119.00,227.90 L119.71,227.99 L120.40,227.93 L121.09,227.93 L121.77,228.10 L122.45,228.06 L123.11,228.05 L123.75,228.25 L124.39,228.23 L125.00,228.15 L125.61,228.23 L126.21,228.32 L126.82,228.38 L127.42,228.33 L128.03,228.33 L128.64,228.47 L129.24,228.56 L129.85,228.67 L130.45,228.74 L131.06,228.74 L131.67,228.92 L132.27,229.01 L132.88,228.95 L133.48,229.03 L134.09,229.14 L134.70,229.25 L135.30,229.37 L135.91,229.39 L136.52,229.42 L137.12,229.49 L137.73,229.65 L138.33,229.84 L138.94,229.84 L139.55,229.83 L140.15,229.91 L140.76,229.92 L141.36,229.93 L141.97,229.98 L142.58,229.95 L143.18,229.98 L143.79,230.13 L144.39,230.25 L145.00,230.24 L145.61,230.19 L146.23,230.24 L146.86,230.37 L147.49,230.29 L148.13,230.15 L148.77,230.17 L149.42,230.22 L150.07,230.19 L150.73,230.17 L151.38,230.15 L152.04,230.13 L152.69,230.13 L153.35,230.05 L154.00,230.08 L154.65,230.01 L155.30,229.89 L155.95,229.96 L156.59,230.00 L157.22,229.94 L157.84,229.75 L158.46,229.74 L159.07,229.84 L159.68,229.75 L160.27,229.60 L160.85,229.63 L161.42,229.78 L161.97,229.73 L162.52,229.69 L163.04,229.60 L163.56,229.52 L164.06,229.51 L164.54,229.42 L165.00,229.43 L165.91,229.42 L166.78,229.37 L167.59,229.36 L168.37,229.36 L169.10,229.36 L169.79,229.37 L170.44,229.31 L171.06,229.32 L171.65,229.28 L172.20,229.27 L172.73,229.37 L173.23,229.27 L173.70,229.26 L174.15,229.46 L174.59,229.53 L175.00,229.50 L176.06,229.67 L176.74,230.02 L177.19,230.42 L177.56,230.78 L178.00,231.05 L178.80,231.40 L179.53,231.66 L180.30,231.58 L180.75,231.34 L181.14,231.07 L181.59,230.78 L182.18,230.37 L183.00,230.00 L183.43,229.80 L183.92,229.56 L184.45,229.39 L185.02,229.21 L185.62,229.06 L186.24,228.82 L186.88,228.55 L187.52,228.32 L188.16,228.16 L188.80,228.09 L189.41,227.94 L190.00,227.79 L190.65,227.77 L191.34,227.62 L192.05,227.48 L192.77,227.37 L193.49,227.34 L194.18,227.47 L194.84,227.43 L195.44,227.40 L195.98,227.48 L196.44,227.47 L196.80,227.40" fill="none" stroke="#44dd44" stroke-width="1.7" stroke-linejoin="round" stroke-linecap="round" />
<path d="M200.00,227.30 L200.39,227.30 L200.91,227.28 L201.54,227.27 L202.24,227.25 L202.99,227.23 L203.76,227.22 L204.53,227.21 L205.26,227.21 L205.94,227.23 L206.53,227.25 L207.00,227.30 L208.04,227.56 L208.52,227.96 L209.00,228.50 L209.39,228.91 L209.78,229.38 L210.16,229.90 L210.57,230.45 L211.00,231.00 L211.39,231.47 L211.81,231.96 L212.25,232.47 L212.69,232.98 L213.11,233.49 L213.50,234.00 L213.87,234.52 L214.22,235.06 L214.56,235.60 L214.88,236.12 L215.20,236.59 L215.50,237.00 L216.05,237.80 L216.56,238.42 L217.10,238.40 L217.35,238.07 L217.60,237.55 L217.86,236.90 L218.12,236.16 L218.40,235.40 L218.69,234.66 L219.00,234.00 L219.34,233.34 L219.70,232.59 L220.08,231.84 L220.46,231.13 L220.85,230.55 L221.23,230.15 L221.60,230.00 L221.95,230.16 L222.30,230.59 L222.65,231.21 L222.99,231.94 L223.33,232.70 L223.66,233.41 L224.00,234.00 L224.40,234.64 L224.81,235.33 L225.21,236.00 L225.60,236.56 L225.97,236.92 L226.30,237.00 L226.54,236.78 L226.76,236.31 L226.95,235.68 L227.13,234.95 L227.30,234.21 L227.49,233.53 L227.70,233.00 L228.10,232.22 L228.53,231.51 L228.97,231.02 L229.40,230.90 L229.74,231.26 L230.08,231.98 L230.42,232.83 L230.76,233.55 L231.10,233.90 L231.53,233.70 L231.95,233.09 L232.38,232.74 L232.80,231.82 L233.22,231.41 L233.65,230.69 L234.07,230.37 L234.50,230.23 L234.93,230.36 L235.35,230.93 L235.77,231.43 L236.20,232.55 L236.53,232.82 L236.86,233.42 L237.19,233.97 L237.53,234.15 L237.90,234.64 L238.40,234.59 L238.93,234.06 L239.47,233.56 L240.00,233.79 L240.53,234.12 L241.05,234.12 L241.57,234.50 L242.10,234.71 L242.61,234.38 L243.12,233.46 L243.64,233.06 L244.20,233.06 L244.55,232.75 L244.92,233.03 L245.31,234.11 L245.69,235.10 L246.08,235.46 L246.45,235.72 L246.80,235.99 L247.36,236.23 L247.88,235.84 L248.39,234.82 L248.90,234.83 L249.31,235.00 L249.72,235.44 L250.13,237.14 L250.55,238.07 L251.00,237.36 L251.29,236.78 L251.60,236.63 L251.91,236.41 L252.22,236.02 L252.54,235.40 L252.87,234.82 L253.18,234.08 L253.50,233.28 L254.14,232.67 L254.78,232.75 L255.41,232.60 L256.00,232.97 L256.52,233.12 L256.98,232.07 L258.00,231.77 L258.41,231.86 L258.88,231.66 L259.40,231.55 L259.96,230.95 L260.56,230.64 L261.19,230.33 L261.83,230.24 L262.48,230.02 L263.13,230.12 L263.78,230.16 L264.40,229.84 L265.00,229.98 L265.66,229.62 L266.34,229.02 L267.05,229.58 L267.76,229.42 L268.47,228.70 L269.17,229.12 L269.84,229.34 L270.47,229.09 L271.04,228.67 L271.56,229.04 L272.00,229.50 L272.81,229.56 L273.20,230.03 L273.44,230.86 L273.80,231.49 L274.16,231.10 L274.45,230.28 L274.96,229.88 L276.00,229.11 L276.41,229.36 L276.88,229.70 L277.40,229.36 L277.98,229.89 L278.59,230.03 L279.23,230.33 L279.89,231.00 L280.57,230.89 L281.25,230.76 L281.93,231.06 L282.60,231.34 L283.25,231.36 L283.87,231.21 L284.46,231.29 L285.00,231.47 L285.71,231.90 L286.42,231.77 L287.13,231.86 L287.82,232.22 L288.49,232.10 L289.13,231.84 L289.72,231.81 L290.26,232.56 L290.75,232.74 L291.16,232.93 L291.50,232.91" fill="none" stroke="#44dd44" stroke-width="1.6" stroke-linejoin="round" stroke-linecap="round" />
<path d="M105.00,239.38 L105.32,239.39 L105.68,239.32 L106.07,239.32 L106.49,239.22 L106.94,239.23 L107.42,239.26 L107.93,239.27 L108.46,239.33 L109.01,239.38 L109.59,239.40 L110.19,239.36 L110.80,239.32 L111.43,239.36 L112.08,239.41 L112.74,239.42 L113.41,239.48 L114.09,239.50 L114.78,239.45 L115.48,239.33 L116.18,239.29 L116.89,239.44 L117.59,239.56 L118.30,239.59 L119.00,239.53 L119.71,239.42 L120.40,239.51 L121.09,239.61 L121.77,239.58 L122.45,239.55 L123.11,239.49 L123.75,239.50 L124.39,239.64 L125.00,239.62 L125.61,239.54 L126.21,239.60 L126.82,239.62 L127.42,239.56 L128.03,239.57 L128.64,239.65 L129.24,239.67 L129.85,239.70 L130.45,239.74 L131.06,239.73 L131.67,239.83 L132.27,239.89 L132.88,239.90 L133.48,240.01 L134.09,239.97 L134.70,239.86 L135.30,239.76 L135.91,239.77 L136.52,239.88 L137.12,239.99 L137.73,239.98 L138.33,239.97 L138.94,240.16 L139.55,240.22 L140.15,240.04 L140.76,240.08 L141.36,240.10 L141.97,239.97 L142.58,240.04 L143.18,240.13 L143.79,240.14 L144.39,240.28 L145.00,240.29 L145.61,240.17 L146.23,240.25 L146.86,240.19 L147.49,240.06 L148.13,240.24 L148.77,240.38 L149.42,240.30 L150.07,240.18 L150.73,240.21 L151.38,240.27 L152.04,240.26 L152.69,240.22 L153.35,240.14 L154.00,240.13 L154.65,240.17 L155.30,240.18 L155.95,240.17 L156.59,240.18 L157.22,240.12 L157.84,240.17 L158.46,240.32 L159.07,240.24 L159.68,240.10 L160.27,240.15 L160.85,240.24 L161.42,240.22 L161.97,240.24 L162.52,240.22 L163.04,240.11 L163.56,240.22 L164.06,240.25 L164.54,240.15 L165.00,240.06 L165.91,240.07 L166.78,240.15 L167.59,240.16 L168.37,240.22 L169.10,240.23 L169.79,240.13 L170.44,240.17 L171.06,240.25 L171.65,240.22 L172.20,240.20 L172.73,240.18 L173.23,240.13 L173.70,240.06 L174.15,240.12 L174.59,240.19 L175.00,240.27 L176.06,240.32 L176.74,240.53 L177.19,240.94 L177.56,241.29 L178.00,241.52 L178.80,241.71 L179.53,241.94 L180.30,242.02 L180.85,241.77 L181.36,241.43 L182.01,241.26 L183.00,241.04 L183.48,240.90 L184.01,240.85 L184.60,240.65 L185.24,240.45 L185.90,240.38 L186.59,240.27 L187.29,240.14 L187.99,240.03 L188.68,240.10 L189.35,240.03 L190.00,239.83 L190.65,239.82 L191.34,239.79 L192.05,239.78 L192.77,239.67 L193.49,239.49 L194.18,239.41 L194.84,239.40 L195.44,239.39 L195.98,239.50 L196.44,239.59 L196.80,239.53" fill="none" stroke="#9b66ee" stroke-width="1.7" stroke-linejoin="round" stroke-linecap="round" />
<path d="M200.00,239.70 L200.39,239.70 L200.91,239.69 L201.54,239.68 L202.24,239.67 L202.99,239.65 L203.76,239.65 L204.53,239.64 L205.26,239.64 L205.94,239.65 L206.53,239.67 L207.00,239.70 L208.04,239.86 L208.52,240.11 L209.00,240.50 L209.49,240.89 L209.98,241.37 L210.48,241.91 L211.00,242.50 L211.37,242.99 L211.76,243.60 L212.16,244.23 L212.55,244.80 L212.94,245.22 L213.30,245.40 L213.71,245.11 L214.09,244.40 L214.46,243.57 L214.83,242.96 L215.20,242.90 L215.39,243.18 L215.58,243.66 L215.77,244.30 L215.96,245.04 L216.15,245.82 L216.34,246.60 L216.53,247.32 L216.72,247.92 L216.91,248.37 L217.10,248.60 L217.41,248.54 L217.71,248.08 L218.01,247.37 L218.31,246.53 L218.64,245.70 L219.00,245.00 L219.34,244.45 L219.70,243.84 L220.08,243.22 L220.46,242.64 L220.85,242.14 L221.23,241.78 L221.60,241.60 L222.09,241.71 L222.58,242.13 L223.06,242.75 L223.53,243.41 L224.00,244.00 L224.46,244.62 L224.91,245.36 L225.36,246.05 L225.82,246.52 L226.30,246.60 L226.62,246.34 L226.95,245.83 L227.29,245.15 L227.64,244.40 L227.98,243.65 L228.33,243.00 L228.67,242.52 L229.00,242.30 L229.36,242.45 L229.71,242.94 L230.06,243.64 L230.40,244.40 L230.76,245.09 L231.12,245.57 L231.50,245.70 L231.81,245.50 L232.14,245.67 L232.48,244.88 L232.83,243.68 L233.17,243.00 L233.52,242.24 L233.86,241.50 L234.19,241.03 L234.50,240.90 L235.04,241.07 L235.57,241.51 L236.08,242.20 L236.56,242.92 L237.00,243.44 L237.48,243.79 L237.90,244.52 L238.29,244.94 L238.70,244.55 L239.10,244.68 L239.49,244.64 L239.91,243.65 L240.40,243.42 L240.87,243.65 L241.40,243.62 L241.95,243.82 L242.50,244.54 L243.00,244.89 L243.75,244.64 L244.45,244.19 L245.10,244.21 L245.46,244.60 L245.79,245.31 L246.11,246.38 L246.44,246.99 L246.80,247.21 L247.47,247.37 L248.19,247.27 L248.90,246.83 L249.31,246.75 L249.72,247.66 L250.13,248.58 L250.55,248.60 L251.00,248.88 L251.29,249.24 L251.60,249.11 L251.91,248.62 L252.22,247.67 L252.54,246.64 L252.87,246.01 L253.18,246.10 L253.50,245.73 L254.14,244.65 L254.78,244.35 L255.41,244.71 L256.00,244.89 L256.52,244.50 L256.98,244.02 L258.00,243.70 L258.45,243.93 L258.97,243.85 L259.55,244.00 L260.18,244.15 L260.84,243.59 L261.54,243.13 L262.24,243.51 L262.96,243.51 L263.66,243.13 L264.34,242.86 L265.00,242.66 L265.65,242.66 L266.33,242.81 L267.03,242.94 L267.74,242.47 L268.44,242.44 L269.13,242.90 L269.79,242.24 L270.42,242.05 L271.01,242.68 L271.54,243.18 L272.00,243.45 L272.47,242.69 L272.86,243.44 L273.17,245.02 L273.43,245.48 L273.64,246.30 L273.83,247.11 L274.01,247.41 L274.19,247.66 L274.40,247.45 L274.59,247.25 L274.68,247.06 L274.73,246.14 L274.79,245.51 L274.89,245.39 L275.10,244.29 L275.45,242.97 L276.00,242.41 L276.39,242.50 L276.85,242.44 L277.37,242.24 L277.93,242.38 L278.54,242.63 L279.19,242.48 L279.85,242.43 L280.54,242.87 L281.22,242.43 L281.91,241.78 L282.59,242.06 L283.24,242.37 L283.87,242.84 L284.46,243.11 L285.00,242.97 L285.78,243.06 L286.56,243.01 L287.34,242.65 L288.09,242.53 L288.81,242.71 L289.49,242.43 L290.11,242.60 L290.66,242.72 L291.12,242.31 L291.50,242.59" fill="none" stroke="#9b66ee" stroke-width="1.6" stroke-linejoin="round" stroke-linecap="round" />
<path d="M105.00,252.48 L105.32,252.50 L105.68,252.52 L106.07,252.48 L106.49,252.50 L106.94,252.44 L107.42,252.38 L107.93,252.42 L108.46,252.47 L109.01,252.50 L109.59,252.52 L110.19,252.56 L110.80,252.61 L111.43,252.62 L112.08,252.57 L112.74,252.58 L113.41,252.61 L114.09,252.67 L114.78,252.72 L115.48,252.65 L116.18,252.62 L116.89,252.57 L117.59,252.59 L118.30,252.59 L119.00,252.61 L119.71,252.58 L120.40,252.51 L121.09,252.68 L121.77,252.82 L122.45,252.82 L123.11,252.66 L123.75,252.52 L124.39,252.55 L125.00,252.54 L125.61,252.63 L126.21,252.70 L126.82,252.69 L127.42,252.69 L128.03,252.66 L128.64,252.79 L129.24,252.86 L129.85,252.71 L130.45,252.75 L131.06,252.77 L131.67,252.70 L132.27,252.81 L132.88,252.78 L133.48,252.70 L134.09,252.73 L134.70,252.83 L135.30,252.95 L135.91,252.88 L136.52,252.88 L137.12,252.80 L137.73,252.70 L138.33,252.83 L138.94,252.83 L139.55,252.79 L140.15,252.81 L140.76,252.83 L141.36,252.84 L141.97,252.73 L142.58,252.70 L143.18,252.74 L143.79,252.79 L144.39,252.74 L145.00,252.67 L145.61,252.82 L146.23,252.88 L146.86,252.94 L147.49,252.92 L148.13,252.67 L148.77,252.72 L149.42,252.87 L150.07,252.80 L150.73,252.72 L151.38,252.73 L152.04,252.83 L152.69,252.85 L153.35,252.83 L154.00,252.84 L154.65,252.85 L155.30,252.76 L155.95,252.77 L156.59,252.85 L157.22,252.93 L157.84,252.90 L158.46,252.75 L159.07,252.81 L159.68,252.90 L160.27,252.81 L160.85,252.71 L161.42,252.82 L161.97,252.79 L162.52,252.68 L163.04,252.78 L163.56,252.76 L164.06,252.74 L164.54,252.82 L165.00,252.80 L165.91,252.71 L166.78,252.70 L167.59,252.75 L168.37,252.83 L169.10,252.78 L169.79,252.79 L170.44,252.79 L171.06,252.78 L171.65,252.93 L172.20,252.92 L172.73,252.80 L173.23,252.82 L173.70,252.90 L174.15,252.85 L174.59,252.80 L175.00,252.77 L176.06,252.87 L176.74,253.15 L177.19,253.34 L177.56,253.41 L178.00,253.50 L178.80,253.72 L179.53,253.94 L180.30,253.95 L180.85,253.86 L181.36,253.65 L182.01,253.40 L183.00,253.20 L183.48,253.10 L184.01,253.06 L184.60,253.06 L185.24,252.83 L185.90,252.73 L186.59,252.81 L187.29,252.75 L187.99,252.77 L188.68,252.74 L189.35,252.62 L190.00,252.54 L190.65,252.56 L191.34,252.50 L192.05,252.44 L192.77,252.48 L193.49,252.46 L194.18,252.47 L194.84,252.43 L195.44,252.39 L195.98,252.44 L196.44,252.46 L196.80,252.53" fill="none" stroke="#4fe8b4" stroke-width="1.7" stroke-linejoin="round" stroke-linecap="round" />
<path d="M200.00,252.80 L200.41,252.78 L200.96,252.73 L201.63,252.67 L202.37,252.60 L203.16,252.54 L203.95,252.50 L204.71,252.49 L205.42,252.53 L206.02,252.63 L206.50,252.80 L206.98,253.17 L207.29,253.67 L207.49,254.26 L207.62,254.92 L207.72,255.62 L207.83,256.32 L208.00,257.00 L208.19,257.61 L208.37,258.26 L208.55,258.95 L208.74,259.64 L208.92,260.31 L209.11,260.94 L209.30,261.51 L209.50,262.00 L209.91,262.94 L210.34,263.79 L210.78,264.25 L211.20,264.00 L211.32,263.71 L211.44,263.30 L211.54,262.79 L211.65,262.19 L211.75,261.53 L211.85,260.83 L211.96,260.10 L212.07,259.36 L212.19,258.64 L212.32,257.95 L212.47,257.32 L212.62,256.76 L212.80,256.30 L213.15,255.60 L213.52,255.03 L213.91,254.55 L214.35,254.16 L214.83,253.84 L215.38,253.56 L216.00,253.30 L216.50,253.14 L217.07,253.02 L217.69,252.93 L218.34,252.86 L219.01,252.82 L219.68,252.79 L220.33,252.78 L220.95,252.78 L221.51,252.79 L222.00,252.80 L222.81,252.79 L223.46,252.76 L224.02,252.82 L224.51,253.03 L225.00,253.50 L225.27,253.95 L225.51,254.58 L225.74,255.33 L225.96,256.14 L226.17,256.94 L226.37,257.69 L226.57,258.32 L226.78,258.78 L227.00,259.00 L227.28,258.89 L227.54,258.42 L227.80,257.71 L228.07,256.90 L228.36,256.09 L228.66,255.42 L229.00,255.00 L229.52,254.84 L230.08,254.97 L230.68,255.23 L231.32,255.46 L232.00,255.53 L232.52,255.75 L233.07,255.04 L233.64,254.50 L234.23,254.68 L234.83,254.21 L235.42,254.14 L236.00,254.32 L236.67,254.52 L237.33,254.24 L238.00,254.56 L238.67,254.68 L239.33,254.59 L240.00,255.10 L240.64,255.13 L241.26,255.57 L241.88,255.99 L242.52,255.98 L243.22,255.77 L244.00,255.45 L244.53,256.11 L245.12,256.42 L245.75,256.22 L246.40,256.77 L247.06,256.94 L247.72,257.19 L248.36,257.52 L248.96,257.57 L249.51,257.80 L250.00,257.90 L250.67,258.06 L251.22,258.64 L251.69,259.05 L252.11,259.53 L252.53,260.48 L253.00,260.51 L253.62,260.14 L254.25,260.80 L254.87,261.08 L255.46,260.86 L256.00,261.78 L256.70,262.06 L257.30,262.09 L258.00,262.56 L258.46,262.90 L258.97,263.57 L259.51,263.89 L260.05,264.36 L260.56,264.74 L261.00,264.58 L261.19,264.91 L261.38,266.10 L261.55,266.65 L261.71,267.08 L261.87,267.76 L262.01,268.51 L262.15,268.73 L262.29,269.46 L262.42,270.52 L262.55,270.88 L262.67,271.08 L262.80,271.72 L262.94,272.73 L263.08,273.20 L263.20,273.79 L263.32,274.80 L263.43,275.65 L263.54,276.28 L263.65,277.37 L263.76,278.10 L263.88,278.25 L264.00,278.18 L264.10,277.20 L264.20,277.08 L264.31,277.31 L264.41,276.89 L264.52,275.82 L264.63,274.55 L264.73,273.96 L264.84,273.58 L264.94,272.52 L265.04,271.79 L265.13,271.49 L265.22,270.60 L265.30,270.53 L265.38,270.09 L265.44,268.82 L265.48,268.07 L265.50,267.71 L265.53,266.97 L265.57,265.99 L265.63,265.33 L265.71,264.56 L265.83,263.98 L266.00,263.95 L266.18,263.79 L266.39,263.43 L266.63,262.56 L266.90,261.71 L267.18,261.52 L267.47,260.24 L267.77,258.53 L268.07,258.24 L268.37,257.97 L268.66,257.60 L268.94,257.15 L269.20,256.75 L269.70,257.00 L270.19,257.43 L270.66,257.96 L271.13,258.77 L271.57,259.44 L272.00,259.95 L272.29,260.57 L272.56,261.32 L272.81,262.28 L273.06,263.34 L273.31,264.11 L273.57,264.18 L273.87,264.18 L274.20,264.34 L274.42,264.69 L274.64,264.46 L274.87,263.81 L275.11,263.09 L275.35,262.60 L275.60,262.38 L275.86,261.42 L276.13,260.34 L276.42,260.14 L276.72,259.54 L277.03,258.29 L277.36,258.04 L277.70,258.03 L278.22,257.23 L278.77,256.40 L279.35,256.74 L279.95,256.67 L280.58,256.29 L281.24,256.56 L281.93,256.68 L282.65,256.35 L283.40,256.31 L283.97,256.30 L284.60,256.00 L285.27,255.44 L285.98,254.71 L286.71,254.67 L287.44,254.66 L288.17,254.96 L288.87,254.92 L289.53,254.48 L290.13,254.72 L290.68,255.02 L291.14,254.65 L291.50,254.02" fill="none" stroke="#4fe8b4" stroke-width="1.6" stroke-linejoin="round" stroke-linecap="round" />
<path d="M105.00,262.21 L105.34,262.14 L105.75,262.11 L106.21,262.20 L106.72,262.17 L107.27,262.15 L107.87,262.18 L108.50,262.24 L109.16,262.26 L109.85,262.25 L110.55,262.27 L111.27,262.30 L111.99,262.31 L112.72,262.25 L113.44,262.29 L114.16,262.45 L114.87,262.48 L115.55,262.33 L116.21,262.31 L116.84,262.53 L117.44,262.59 L118.00,262.48 L118.74,262.54 L119.46,262.66 L120.16,262.71 L120.84,262.70 L121.50,262.71 L122.15,262.68 L122.78,262.72 L123.40,262.77 L124.01,262.73 L124.61,262.68 L125.20,262.86 L125.78,263.10 L126.36,263.13 L126.93,263.18 L127.50,263.24 L128.20,263.27 L128.87,263.33 L129.52,263.49 L130.16,263.67 L130.78,263.82 L131.39,263.95 L132.00,264.19 L132.60,264.45 L133.19,264.66 L133.79,264.88 L134.39,264.92 L135.00,265.00 L135.58,265.15 L136.09,265.27 L136.57,265.49 L137.03,265.68 L137.48,265.73 L137.96,265.81 L138.46,265.92 L139.03,265.97 L139.66,266.02 L140.39,266.09 L141.23,266.26 L142.20,266.33 L142.65,266.26 L143.13,266.33 L143.64,266.33 L144.18,266.45 L144.74,266.54 L145.33,266.38 L145.93,266.32 L146.56,266.50 L147.20,266.55 L147.86,266.53 L148.53,266.59 L149.20,266.61 L149.89,266.58 L150.58,266.59 L151.27,266.64 L151.97,266.62 L152.66,266.64 L153.34,266.71 L154.03,266.72 L154.70,266.76 L155.36,266.75 L156.01,266.67 L156.64,266.74 L157.26,266.82 L157.86,266.74 L158.43,266.67 L158.98,266.75 L159.51,266.84 L160.00,266.75 L160.85,266.72 L161.65,266.78 L162.41,266.79 L163.14,266.85 L163.84,266.95 L164.50,266.88 L165.13,266.86 L165.74,266.95 L166.32,266.98 L166.89,266.93 L167.43,266.83 L167.96,266.87 L168.48,266.87 L168.99,266.91 L169.50,266.91 L170.00,266.88 L170.78,266.89 L171.52,266.80 L172.22,266.82 L172.88,266.83 L173.50,266.79 L174.08,266.82 L174.62,266.87 L175.12,266.84 L175.58,266.93 L176.00,267.11 L176.77,267.34 L177.23,267.63 L177.57,268.00 L178.00,268.44 L178.57,268.91 L179.17,269.43 L179.76,269.89 L180.30,270.05 L180.76,269.75 L181.17,269.08 L181.57,268.51 L182.00,268.18 L182.50,267.78 L183.03,267.57 L184.00,267.60 L184.43,267.62 L184.93,267.45 L185.48,267.34 L186.07,267.18 L186.70,267.06 L187.35,267.12 L188.02,266.95 L188.68,266.84 L189.35,266.83 L190.00,266.84 L190.61,266.80 L191.28,266.61 L191.98,266.61 L192.70,266.62 L193.42,266.64 L194.12,266.72 L194.79,266.64 L195.41,266.54 L195.97,266.62 L196.43,266.58 L196.80,266.58" fill="none" stroke="#d49a1c" stroke-width="1.7" stroke-linejoin="round" stroke-linecap="round" />
<path d="M200.00,262.70 L200.38,262.69 L200.89,262.65 L201.50,262.60 L202.18,262.54 L202.91,262.49 L203.64,262.46 L204.34,262.46 L204.99,262.49 L205.56,262.57 L206.00,262.70 L206.52,263.04 L206.85,263.49 L207.06,264.04 L207.20,264.65 L207.33,265.31 L207.50,266.00 L207.65,266.55 L207.77,267.15 L207.89,267.79 L208.00,268.46 L208.11,269.12 L208.23,269.78 L208.35,270.41 L208.50,271.00 L208.69,271.62 L208.90,272.22 L209.11,272.79 L209.34,273.35 L209.56,273.89 L209.79,274.44 L210.00,275.00 L210.24,275.78 L210.47,276.71 L210.69,277.63 L210.92,278.40 L211.16,278.88 L211.40,278.90 L211.54,278.63 L211.67,278.14 L211.81,277.46 L211.95,276.66 L212.09,275.80 L212.23,274.91 L212.38,274.05 L212.53,273.28 L212.68,272.65 L212.84,272.20 L213.00,272.00 L213.20,272.12 L213.42,272.58 L213.64,273.29 L213.86,274.14 L214.09,275.06 L214.32,275.95 L214.55,276.71 L214.78,277.26 L215.00,277.50 L215.24,277.41 L215.48,277.04 L215.71,276.48 L215.94,275.78 L216.18,275.02 L216.43,274.25 L216.70,273.56 L217.00,273.00 L217.38,272.48 L217.78,272.00 L218.22,271.56 L218.66,271.14 L219.11,270.74 L219.56,270.36 L220.00,270.00 L220.50,269.61 L221.00,269.26 L221.50,268.94 L222.00,268.63 L222.50,268.32 L223.00,268.00 L223.52,267.58 L224.06,267.04 L224.59,266.51 L225.11,266.09 L225.59,265.88 L226.00,266.00 L226.23,266.35 L226.43,266.95 L226.61,267.71 L226.77,268.57 L226.92,269.45 L227.06,270.29 L227.20,271.01 L227.34,271.53 L227.50,271.80 L227.73,271.71 L227.94,271.20 L228.16,270.42 L228.39,269.53 L228.66,268.67 L229.00,268.00 L229.40,267.45 L229.85,266.90 L230.34,266.38 L230.87,265.94 L231.42,265.63 L232.00,265.60 L232.49,265.56 L232.99,265.95 L233.50,266.81 L234.04,266.92 L234.62,266.65 L235.27,267.11 L236.00,267.42 L236.53,268.00 L237.13,267.85 L237.79,267.75 L238.48,267.14 L239.19,267.10 L239.90,267.85 L240.58,267.73 L241.24,267.41 L241.84,266.82 L242.36,266.96 L242.80,267.49 L243.08,267.93 L243.30,268.15 L243.49,269.18 L243.63,270.67 L243.75,271.12 L243.84,271.58 L243.92,272.51 L243.98,273.69 L244.04,273.89 L244.10,273.94 L244.17,275.22 L244.26,275.90 L244.37,275.97 L244.50,276.22 L244.74,275.92 L244.98,275.42 L245.24,275.52 L245.51,274.69 L245.78,273.28 L246.07,272.60 L246.37,272.04 L246.68,271.60 L247.00,270.92 L247.45,270.81 L247.93,271.65 L248.44,271.66 L248.95,272.08 L249.46,272.84 L249.95,272.90 L250.40,273.01 L251.09,273.38 L251.71,274.00 L252.32,273.45 L253.00,273.80 L253.16,274.51 L253.32,274.67 L253.49,275.37 L253.66,276.10 L253.84,276.65 L254.01,277.54 L254.19,278.02 L254.38,279.25 L254.56,280.34 L254.74,280.71 L254.92,281.34 L255.11,281.83 L255.29,282.54 L255.46,283.25 L255.64,284.29 L255.81,285.25 L255.98,285.23 L256.14,284.99 L256.30,285.33 L256.62,285.39 L256.93,284.92 L257.22,284.87 L257.51,284.76 L257.79,283.56 L258.07,282.11 L258.34,281.46 L258.62,280.92 L258.90,280.55 L259.53,280.40 L260.15,280.04 L260.77,280.29 L261.40,282.08 L261.51,282.83 L261.61,283.14 L261.72,283.16 L261.83,283.68 L261.94,284.90 L262.05,285.84 L262.15,286.54 L262.26,287.59 L262.37,288.38 L262.48,289.57 L262.59,290.86 L262.70,291.34 L262.81,291.81 L262.92,292.91 L263.03,293.84 L263.14,294.81 L263.25,295.80 L263.35,295.93 L263.46,296.00 L263.57,296.02 L263.68,296.14 L263.79,296.14 L263.89,296.15 L264.00,296.50 L264.05,296.12 L264.11,295.71 L264.16,295.80 L264.22,295.34 L264.27,294.81 L264.33,295.28 L264.38,294.89 L264.44,293.82 L264.49,293.78 L264.55,293.29 L264.60,292.12 L264.66,291.65 L264.71,290.99 L264.77,290.29 L264.82,289.91 L264.88,288.82 L264.93,287.85 L264.99,287.09 L265.04,286.18 L265.10,285.71 L265.15,285.46 L265.21,284.62 L265.26,283.54 L265.31,282.91 L265.37,282.42 L265.42,281.27 L265.48,280.49 L265.53,279.72 L265.58,278.69 L265.64,278.40 L265.69,277.33 L265.74,276.48 L265.80,275.90 L265.85,274.69 L265.90,274.18 L265.95,273.36 L266.00,272.93 L266.05,272.87 L266.10,271.95 L266.16,270.99 L266.21,270.45 L266.26,269.71 L266.31,269.25 L266.35,269.36 L266.40,268.85 L266.45,268.04 L266.50,267.45 L266.84,265.68 L267.12,264.35 L267.39,264.02 L267.68,264.63 L268.04,264.33 L268.50,264.48 L268.94,264.76 L269.46,264.93 L270.04,265.43 L270.64,265.53 L271.25,265.97 L271.83,266.38 L272.35,267.01 L272.80,267.71 L273.08,267.97 L273.33,268.68 L273.55,269.35 L273.76,269.61 L273.94,270.63 L274.12,271.94 L274.28,272.53 L274.44,273.20 L274.59,273.75 L274.74,274.09 L274.90,274.17 L275.17,273.63 L275.42,272.99 L275.64,272.14 L275.86,271.13 L276.07,270.52 L276.30,270.23 L276.40,270.55 L276.50,271.08 L276.59,272.00 L276.68,272.61 L276.77,272.87 L276.86,274.00 L276.95,275.20 L277.05,275.90 L277.16,276.86 L277.27,277.85 L277.40,278.25 L277.54,278.50 L277.70,277.95 L277.81,277.65 L277.93,277.50 L278.05,277.18 L278.19,276.93 L278.32,276.61 L278.46,276.02 L278.61,274.61 L278.76,273.90 L278.91,273.57 L279.06,272.65 L279.22,271.69 L279.38,270.65 L279.53,269.73 L279.69,269.07 L279.85,268.68 L280.00,268.11 L280.16,267.31 L280.31,266.62 L280.46,266.65 L280.60,266.76 L281.09,266.21 L281.59,266.51 L282.09,267.67 L282.57,268.87 L283.02,269.30 L283.40,268.99 L283.65,268.82 L283.77,268.39 L283.86,267.37 L283.99,266.73 L284.28,265.99 L284.80,264.84 L285.19,264.83 L285.69,265.11 L286.26,264.59 L286.89,264.56 L287.56,264.25 L288.24,263.36 L288.91,263.62 L289.57,263.42 L290.17,262.05 L290.71,262.05 L291.16,262.22 L291.50,261.79" fill="none" stroke="#d49a1c" stroke-width="1.6" stroke-linejoin="round" stroke-linecap="round" />
<path d="M105.00,282.31 L105.31,282.22 L105.62,282.24 L105.95,282.39 L106.29,282.41 L106.64,282.45 L107.01,282.39 L107.38,282.28 L107.76,282.29 L108.16,282.29 L108.56,282.39 L108.98,282.47 L109.40,282.27 L109.84,282.20 L110.28,282.32 L110.74,282.24 L111.20,282.28 L111.67,282.34 L112.16,282.22 L112.65,282.23 L113.15,282.24 L113.66,282.30 L114.17,282.38 L114.70,282.30 L115.23,282.24 L115.78,282.27 L116.33,282.25 L116.88,282.25 L117.45,282.27 L118.02,282.28 L118.60,282.37 L119.19,282.34 L119.78,282.30 L120.38,282.32 L120.99,282.36 L121.61,282.39 L122.23,282.37 L122.85,282.35 L123.49,282.26 L124.13,282.14 L124.77,282.14 L125.42,282.41 L126.08,282.47 L126.74,282.27 L127.40,282.29 L128.08,282.33 L128.75,282.34 L129.43,282.37 L130.12,282.29 L130.81,282.21 L131.50,282.32 L132.20,282.31 L132.90,282.26 L133.61,282.28 L134.32,282.29 L135.03,282.36 L135.75,282.31 L136.47,282.33 L137.19,282.32 L137.91,282.23 L138.64,282.25 L139.37,282.29 L140.10,282.27 L140.84,282.11 L141.58,282.11 L142.31,282.27 L143.05,282.34 L143.80,282.33 L144.54,282.44 L145.29,282.47 L146.03,282.29 L146.78,282.26 L147.53,282.32 L148.28,282.35 L149.03,282.37 L149.78,282.37 L150.53,282.30 L151.27,282.35 L152.02,282.44 L152.77,282.36 L153.52,282.28 L154.27,282.32 L155.02,282.34 L155.77,282.25 L156.51,282.29 L157.26,282.34 L158.00,282.40 L158.75,282.24 L159.49,282.19 L160.22,282.33 L160.96,282.22 L161.70,282.27 L162.43,282.47 L163.16,282.38 L163.89,282.29 L164.61,282.41 L165.33,282.38 L166.05,282.30 L166.77,282.26 L167.48,282.40 L168.19,282.40 L168.90,282.31 L169.60,282.34 L170.30,282.38 L170.99,282.43 L171.68,282.47 L172.37,282.37 L173.05,282.23 L173.72,282.27 L174.40,282.26 L175.06,282.18 L175.72,282.22 L176.38,282.22 L177.03,282.21 L177.67,282.30 L178.31,282.36 L178.95,282.36 L179.57,282.29 L180.19,282.33 L180.81,282.41 L181.42,282.24 L182.02,282.18 L182.61,282.34 L183.20,282.34 L183.78,282.34 L184.35,282.36 L184.92,282.43 L185.47,282.42 L186.02,282.25 L186.57,282.26 L187.10,282.27 L187.63,282.25 L188.14,282.25 L188.65,282.22 L189.15,282.30 L189.64,282.35 L190.13,282.31 L190.60,282.23 L191.06,282.28 L191.52,282.27 L191.96,282.19 L192.40,282.29 L192.82,282.22 L193.24,282.29 L193.64,282.35 L194.04,282.24 L194.42,282.28 L194.79,282.35 L195.16,282.37 L195.51,282.29 L195.85,282.27 L196.18,282.30 L196.49,282.34 L196.80,282.41" fill="none" stroke="#66777a" stroke-width="1.7" stroke-linejoin="round" stroke-linecap="round" />
<path d="M200.00,281.80 L200.41,281.76 L200.96,281.65 L201.62,281.51 L202.36,281.36 L203.14,281.23 L203.93,281.14 L204.70,281.12 L205.40,281.21 L206.02,281.43 L206.50,281.80 L206.75,282.18 L206.97,282.70 L207.15,283.33 L207.29,284.04 L207.42,284.82 L207.52,285.64 L207.61,286.48 L207.68,287.31 L207.74,288.12 L207.80,288.87 L207.86,289.54 L207.93,290.11 L208.01,290.56 L208.09,290.87 L208.20,291.00 L208.33,290.93 L208.46,290.65 L208.58,290.19 L208.71,289.58 L208.83,288.87 L208.96,288.07 L209.08,287.22 L209.22,286.36 L209.35,285.52 L209.50,284.73 L209.66,284.03 L209.82,283.44 L210.00,283.00 L210.46,282.31 L210.92,281.98 L211.45,281.88 L212.12,281.87 L213.00,281.80 L213.49,281.74 L214.05,281.70 L214.66,281.66 L215.31,281.64 L216.00,281.62 L216.69,281.61 L217.40,281.60 L218.09,281.60 L218.76,281.60 L219.40,281.60 L220.00,281.60 L220.70,281.53 L221.40,281.35 L222.09,281.12 L222.77,280.89 L223.41,280.73 L224.02,280.68 L224.58,280.81 L225.07,281.16 L225.50,281.80 L225.64,282.16 L225.77,282.61 L225.89,283.13 L225.99,283.73 L226.08,284.38 L226.16,285.09 L226.23,285.84 L226.30,286.62 L226.35,287.42 L226.40,288.24 L226.45,289.06 L226.49,289.88 L226.53,290.69 L226.56,291.47 L226.60,292.22 L226.64,292.94 L226.67,293.60 L226.71,294.20 L226.76,294.73 L226.81,295.19 L226.87,295.56 L226.93,295.83 L227.00,296.00 L227.12,296.06 L227.23,295.91 L227.35,295.57 L227.47,295.08 L227.59,294.46 L227.72,293.73 L227.84,292.93 L227.97,292.08 L228.10,291.21 L228.24,290.34 L228.38,289.50 L228.53,288.72 L228.68,288.03 L228.84,287.44 L229.00,287.00 L229.43,286.25 L229.89,285.79 L230.38,285.51 L230.89,285.35 L231.43,285.21 L232.00,284.74 L232.58,284.64 L233.16,284.69 L233.76,284.83 L234.42,284.56 L235.16,284.31 L236.00,284.09 L236.51,283.68 L237.04,283.27 L237.61,282.99 L238.20,283.24 L238.81,283.70 L239.44,283.32 L240.08,283.10 L240.75,283.03 L241.42,283.03 L242.11,283.38 L242.80,283.11 L243.37,283.45 L243.97,283.31 L244.60,282.83 L245.26,283.53 L245.92,284.00 L246.60,283.85 L247.27,283.97 L247.93,284.37 L248.58,284.69 L249.20,284.73 L249.79,284.67 L250.34,284.55 L250.85,285.29 L251.30,286.14 L251.84,285.83 L252.29,285.71 L252.67,286.13 L252.99,286.65 L253.27,287.44 L253.52,288.10 L253.77,288.60 L254.02,289.37 L254.29,289.72 L254.60,289.88 L254.86,290.49 L255.13,291.14 L255.39,291.91 L255.66,293.33 L255.94,294.07 L256.21,294.43 L256.48,295.43 L256.75,296.07 L257.01,296.64 L257.27,297.23 L257.52,297.44 L257.76,297.45 L258.00,297.65 L258.36,297.81 L258.69,297.82 L259.00,297.10 L259.30,295.90 L259.60,294.93 L259.91,293.87 L260.24,293.24 L260.60,293.73 L260.71,294.24 L260.82,294.77 L260.94,295.41 L261.05,295.84 L261.17,295.78 L261.30,296.50 L261.42,297.48 L261.55,297.76 L261.68,299.00 L261.80,300.59 L261.93,301.14 L262.06,301.61 L262.19,302.51 L262.33,303.58 L262.46,304.50 L262.58,304.85 L262.71,305.74 L262.84,307.08 L262.97,308.01 L263.09,308.56 L263.22,309.17 L263.34,309.67 L263.45,310.05 L263.57,310.41 L263.68,310.40 L263.79,311.10 L263.90,311.64 L264.00,311.14 L264.08,310.80 L264.15,310.66 L264.23,310.06 L264.30,309.69 L264.37,309.68 L264.44,309.18 L264.51,308.87 L264.58,308.38 L264.65,307.25 L264.71,306.90 L264.78,306.92 L264.84,306.18 L264.91,305.12 L264.97,304.12 L265.03,303.66 L265.09,302.78 L265.15,301.83 L265.21,301.49 L265.27,300.81 L265.33,300.06 L265.39,298.95 L265.44,297.55 L265.50,296.69 L265.56,296.18 L265.61,295.78 L265.67,294.86 L265.72,293.65 L265.77,293.41 L265.83,293.02 L265.88,291.71 L265.94,291.00 L265.99,290.99 L266.04,290.53 L266.09,289.70 L266.15,289.11 L266.20,288.61 L266.45,287.05 L266.63,286.30 L266.78,286.03 L266.99,285.96 L267.30,285.71 L267.80,285.17 L268.20,284.92 L268.68,284.86 L269.21,284.59 L269.79,284.45 L270.40,284.32 L271.03,284.10 L271.67,283.54 L272.30,283.03 L272.92,283.01 L273.50,283.12 L274.12,283.21 L274.72,283.15 L275.32,283.07 L275.91,282.64 L276.51,282.17 L277.13,282.28 L277.76,282.71 L278.41,283.24 L279.10,282.93 L279.70,281.99 L280.32,281.84 L280.98,282.37 L281.65,282.41 L282.33,282.10 L283.01,281.83 L283.69,281.89 L284.35,282.05 L285.00,281.89 L285.62,281.44 L286.20,281.64 L286.98,281.94 L287.78,281.57 L288.55,281.47 L289.29,281.66 L289.98,281.62 L290.59,281.51 L291.10,281.59 L291.50,281.48" fill="none" stroke="#66777a" stroke-width="1.6" stroke-linejoin="round" stroke-linecap="round" />
<text x="138" y="194.5" font-size="8.3" text-anchor="start" fill="#000" >P0</text>
<text x="138" y="205.5" font-size="8.3" text-anchor="start" fill="#000" >P1</text>
<text x="138" y="217.8" font-size="8.3" text-anchor="start" fill="#000" >P2</text>
<text x="138" y="228" font-size="8.3" text-anchor="start" fill="#000" >P3</text>
<text x="137.6" y="238.9" font-size="8.3" text-anchor="start" fill="#000" >P4</text>
<text x="137.6" y="250.5" font-size="8.3" text-anchor="start" fill="#000" >P4'</text>
<text x="137.3" y="264.0" font-size="8.3" text-anchor="start" fill="#000" >P2'</text>
<text x="131.6" y="280.3" font-size="7.7" text-anchor="start" fill="#000" >PPFPA</text>
<line x1="208.5" y1="191" x2="208.5" y2="298" stroke="#111" stroke-width="1" stroke-dasharray="3 1 1 1"/>
<line x1="227" y1="190" x2="227" y2="248" stroke="#f04a9a" stroke-width="1" stroke-dasharray="2.5 1.5"/>
<line x1="231.4" y1="192" x2="231.4" y2="248" stroke="#f04a9a" stroke-width="1" stroke-dasharray="2.5 1.5"/>
<line x1="227" y1="253" x2="227" y2="318" stroke="#3fbf8a" stroke-width="1.1" />
<line x1="227" y1="253" x2="227" y2="318" stroke="#1c2a2a" stroke-width="1.2" stroke-dasharray="2.2 1.2"/>
<line x1="217" y1="194" x2="210.5" y2="184.8" stroke="#222" stroke-width="0.8" />
<polygon points="210.50,184.80 214.20,187.09 211.42,189.05" fill="#222"/>
<line x1="227" y1="190" x2="227" y2="182" stroke="#222" stroke-width="0.9" />
<polygon points="227.00,182.00 228.40,185.20 225.60,185.20" fill="#222"/>
<line x1="232" y1="195" x2="248" y2="185" stroke="#444" stroke-width="0.7" />
<polygon points="248.00,185.00 246.03,187.88 244.54,185.51" fill="#444"/>
<line x1="211.5" y1="266.9" x2="153.4" y2="294.4" stroke="#444" stroke-width="0.7" />
<polygon points="153.40,294.40 155.69,291.77 156.89,294.30" fill="#444"/>
<text x="169.5" y="180.7" font-size="6.4" text-anchor="start" fill="#000" >C=O str.(amide)</text>
<text x="170" y="188.8" font-size="6.4" text-anchor="start" fill="#000" >1650 cm<tspan font-size="3.9" dy="-2.9">-1</tspan></text>
<text x="218" y="170.4" font-size="6.4" text-anchor="start" fill="#000" >N-H ben.</text>
<text x="218.3" y="178.5" font-size="6.4" text-anchor="start" fill="#000" >1530 cm<tspan font-size="3.9" dy="-2.9">-1</tspan></text>
<text x="248" y="183.7" font-size="6.4" text-anchor="start" fill="#000" >N-O str.</text>
<text x="248" y="192.3" font-size="6.4" text-anchor="start" fill="#000" >1460 cm<tspan font-size="3.9" dy="-2.9">-1</tspan></text>
<text x="111.4" y="304.4" font-size="6.4" text-anchor="start" fill="#000" >C=O str.(new ester)</text>
<text x="111.4" y="313.1" font-size="6.4" text-anchor="start" fill="#000" >1735 cm<tspan font-size="3.9" dy="-2.9">-1</tspan></text>
<text x="175.3" y="309.7" font-size="6.4" text-anchor="start" fill="#000" >C=O str.(ester)</text>
<text x="175.3" y="317.7" font-size="6.4" text-anchor="start" fill="#000" >1782 cm<tspan font-size="3.9" dy="-2.9">-1</tspan></text>
<text x="229.3" y="316.0" font-size="6.4" text-anchor="start" fill="#000" >Arene str.</text>
<text x="229.3" y="325.6" font-size="6.4" text-anchor="start" fill="#000" >1515 cm<tspan font-size="3.9" dy="-2.9">-1</tspan></text>
</svg>
</body></html>
